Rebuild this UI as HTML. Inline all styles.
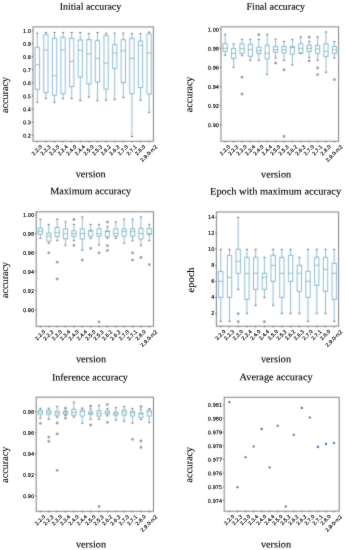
<!DOCTYPE html>
<html><head><meta charset="utf-8"><title>Accuracy by version</title>
<style>
html,body{margin:0;padding:0;background:#fff;}
body{width:345px;height:550px;overflow:hidden;}
svg{display:block;}
svg text{font-family:"DejaVu Sans", "Liberation Sans", sans-serif;fill:#000;text-rendering:geometricPrecision;stroke:#000;stroke-width:0.15px;}
svg text.s{font-family:"Liberation Serif", "DejaVu Serif", serif;stroke-width:0.12px;}
</style></head>
<body>
<svg width="345" height="550" viewBox="0 0 345 550">
<defs><filter id="sg" x="0" y="0" width="345" height="550" filterUnits="userSpaceOnUse" color-interpolation-filters="sRGB"><feConvolveMatrix order="3" kernelMatrix="0.03 0.09 0.03 0.09 0.52 0.09 0.03 0.09 0.03" edgeMode="duplicate" preserveAlpha="true"/></filter><filter id="st" x="0" y="0" width="345" height="550" filterUnits="userSpaceOnUse" color-interpolation-filters="sRGB"><feConvolveMatrix order="3" kernelMatrix="0.01 0.06 0.01 0.06 0.72 0.06 0.01 0.06 0.01" edgeMode="none" preserveAlpha="false"/></filter></defs>
<rect width="345" height="550" fill="#fff"/>
<g filter="url(#sg)">
<rect width="345" height="550" fill="#fff"/>
<line x1="37.3" y1="33.2" x2="37.3" y2="47.3" stroke="#1f77b4" stroke-width="1" stroke-opacity="0.5"/>
<line x1="37.3" y1="89.3" x2="37.3" y2="102.3" stroke="#1f77b4" stroke-width="1" stroke-opacity="0.5"/>
<rect x="35.15" y="47.3" width="4.3" height="42" fill="none" stroke="#1f77b4" stroke-width="1" stroke-opacity="0.5"/>
<line x1="35.15" y1="64.7" x2="39.45" y2="64.7" stroke="#2ca02c" stroke-width="1" stroke-opacity="0.5"/>
<line x1="36.22" y1="33.2" x2="38.38" y2="33.2" stroke="#222" stroke-width="1" stroke-opacity="0.6"/>
<line x1="36.22" y1="102.3" x2="38.38" y2="102.3" stroke="#222" stroke-width="1" stroke-opacity="0.6"/>
<line x1="45.9" y1="32.5" x2="45.9" y2="34.7" stroke="#1f77b4" stroke-width="1" stroke-opacity="0.5"/>
<line x1="45.9" y1="92.6" x2="45.9" y2="98.4" stroke="#1f77b4" stroke-width="1" stroke-opacity="0.5"/>
<rect x="43.75" y="34.7" width="4.3" height="57.9" fill="none" stroke="#1f77b4" stroke-width="1" stroke-opacity="0.5"/>
<line x1="43.75" y1="50.1" x2="48.05" y2="50.1" stroke="#2ca02c" stroke-width="1" stroke-opacity="0.5"/>
<line x1="44.82" y1="32.5" x2="46.98" y2="32.5" stroke="#222" stroke-width="1" stroke-opacity="0.6"/>
<line x1="44.82" y1="98.4" x2="46.98" y2="98.4" stroke="#222" stroke-width="1" stroke-opacity="0.6"/>
<line x1="54.5" y1="32.5" x2="54.5" y2="38.3" stroke="#1f77b4" stroke-width="1" stroke-opacity="0.5"/>
<line x1="54.5" y1="95.2" x2="54.5" y2="102.2" stroke="#1f77b4" stroke-width="1" stroke-opacity="0.5"/>
<rect x="52.35" y="38.3" width="4.3" height="56.9" fill="none" stroke="#1f77b4" stroke-width="1" stroke-opacity="0.5"/>
<line x1="52.35" y1="75.8" x2="56.65" y2="75.8" stroke="#2ca02c" stroke-width="1" stroke-opacity="0.5"/>
<line x1="53.42" y1="32.5" x2="55.58" y2="32.5" stroke="#222" stroke-width="1" stroke-opacity="0.6"/>
<line x1="53.42" y1="102.2" x2="55.58" y2="102.2" stroke="#222" stroke-width="1" stroke-opacity="0.6"/>
<line x1="63.1" y1="32.5" x2="63.1" y2="37.4" stroke="#1f77b4" stroke-width="1" stroke-opacity="0.5"/>
<line x1="63.1" y1="93.7" x2="63.1" y2="98.8" stroke="#1f77b4" stroke-width="1" stroke-opacity="0.5"/>
<rect x="60.95" y="37.4" width="4.3" height="56.3" fill="none" stroke="#1f77b4" stroke-width="1" stroke-opacity="0.5"/>
<line x1="60.95" y1="49.8" x2="65.25" y2="49.8" stroke="#2ca02c" stroke-width="1" stroke-opacity="0.5"/>
<line x1="62.02" y1="32.5" x2="64.17" y2="32.5" stroke="#222" stroke-width="1" stroke-opacity="0.6"/>
<line x1="62.02" y1="98.8" x2="64.17" y2="98.8" stroke="#222" stroke-width="1" stroke-opacity="0.6"/>
<line x1="71.7" y1="32.5" x2="71.7" y2="38.3" stroke="#1f77b4" stroke-width="1" stroke-opacity="0.5"/>
<line x1="71.7" y1="86.6" x2="71.7" y2="98.6" stroke="#1f77b4" stroke-width="1" stroke-opacity="0.5"/>
<rect x="69.55" y="38.3" width="4.3" height="48.3" fill="none" stroke="#1f77b4" stroke-width="1" stroke-opacity="0.5"/>
<line x1="69.55" y1="61.3" x2="73.85" y2="61.3" stroke="#2ca02c" stroke-width="1" stroke-opacity="0.5"/>
<line x1="70.62" y1="32.5" x2="72.77" y2="32.5" stroke="#222" stroke-width="1" stroke-opacity="0.6"/>
<line x1="70.62" y1="98.6" x2="72.77" y2="98.6" stroke="#222" stroke-width="1" stroke-opacity="0.6"/>
<line x1="80.3" y1="32.5" x2="80.3" y2="40" stroke="#1f77b4" stroke-width="1" stroke-opacity="0.5"/>
<line x1="80.3" y1="77.1" x2="80.3" y2="100.5" stroke="#1f77b4" stroke-width="1" stroke-opacity="0.5"/>
<rect x="78.15" y="40" width="4.3" height="37.1" fill="none" stroke="#1f77b4" stroke-width="1" stroke-opacity="0.5"/>
<line x1="78.15" y1="50.3" x2="82.45" y2="50.3" stroke="#2ca02c" stroke-width="1" stroke-opacity="0.5"/>
<line x1="79.22" y1="32.5" x2="81.38" y2="32.5" stroke="#222" stroke-width="1" stroke-opacity="0.6"/>
<line x1="79.22" y1="100.5" x2="81.38" y2="100.5" stroke="#222" stroke-width="1" stroke-opacity="0.6"/>
<line x1="88.9" y1="33.5" x2="88.9" y2="39.6" stroke="#1f77b4" stroke-width="1" stroke-opacity="0.5"/>
<line x1="88.9" y1="84" x2="88.9" y2="97.1" stroke="#1f77b4" stroke-width="1" stroke-opacity="0.5"/>
<rect x="86.75" y="39.6" width="4.3" height="44.4" fill="none" stroke="#1f77b4" stroke-width="1" stroke-opacity="0.5"/>
<line x1="86.75" y1="53.9" x2="91.05" y2="53.9" stroke="#2ca02c" stroke-width="1" stroke-opacity="0.5"/>
<line x1="87.83" y1="33.5" x2="89.98" y2="33.5" stroke="#222" stroke-width="1" stroke-opacity="0.6"/>
<line x1="87.83" y1="97.1" x2="89.98" y2="97.1" stroke="#222" stroke-width="1" stroke-opacity="0.6"/>
<line x1="97.5" y1="32.5" x2="97.5" y2="40.7" stroke="#1f77b4" stroke-width="1" stroke-opacity="0.5"/>
<line x1="97.5" y1="81.9" x2="97.5" y2="100.7" stroke="#1f77b4" stroke-width="1" stroke-opacity="0.5"/>
<rect x="95.35" y="40.7" width="4.3" height="41.2" fill="none" stroke="#1f77b4" stroke-width="1" stroke-opacity="0.5"/>
<line x1="95.35" y1="58.3" x2="99.65" y2="58.3" stroke="#2ca02c" stroke-width="1" stroke-opacity="0.5"/>
<line x1="96.42" y1="32.5" x2="98.58" y2="32.5" stroke="#222" stroke-width="1" stroke-opacity="0.6"/>
<line x1="96.42" y1="100.7" x2="98.58" y2="100.7" stroke="#222" stroke-width="1" stroke-opacity="0.6"/>
<line x1="106.1" y1="33.2" x2="106.1" y2="35.5" stroke="#1f77b4" stroke-width="1" stroke-opacity="0.5"/>
<line x1="106.1" y1="89.1" x2="106.1" y2="100.3" stroke="#1f77b4" stroke-width="1" stroke-opacity="0.5"/>
<rect x="103.95" y="35.5" width="4.3" height="53.6" fill="none" stroke="#1f77b4" stroke-width="1" stroke-opacity="0.5"/>
<line x1="103.95" y1="63.2" x2="108.25" y2="63.2" stroke="#2ca02c" stroke-width="1" stroke-opacity="0.5"/>
<line x1="105.02" y1="33.2" x2="107.17" y2="33.2" stroke="#222" stroke-width="1" stroke-opacity="0.6"/>
<line x1="105.02" y1="100.3" x2="107.17" y2="100.3" stroke="#222" stroke-width="1" stroke-opacity="0.6"/>
<line x1="114.7" y1="33.1" x2="114.7" y2="44.6" stroke="#1f77b4" stroke-width="1" stroke-opacity="0.5"/>
<line x1="114.7" y1="68.3" x2="114.7" y2="99.7" stroke="#1f77b4" stroke-width="1" stroke-opacity="0.5"/>
<rect x="112.55" y="44.6" width="4.3" height="23.7" fill="none" stroke="#1f77b4" stroke-width="1" stroke-opacity="0.5"/>
<line x1="112.55" y1="53.1" x2="116.85" y2="53.1" stroke="#2ca02c" stroke-width="1" stroke-opacity="0.5"/>
<line x1="113.62" y1="33.1" x2="115.78" y2="33.1" stroke="#222" stroke-width="1" stroke-opacity="0.6"/>
<line x1="113.62" y1="99.7" x2="115.78" y2="99.7" stroke="#222" stroke-width="1" stroke-opacity="0.6"/>
<line x1="123.3" y1="33.1" x2="123.3" y2="39.6" stroke="#1f77b4" stroke-width="1" stroke-opacity="0.5"/>
<line x1="123.3" y1="82.5" x2="123.3" y2="97.5" stroke="#1f77b4" stroke-width="1" stroke-opacity="0.5"/>
<rect x="121.15" y="39.6" width="4.3" height="42.9" fill="none" stroke="#1f77b4" stroke-width="1" stroke-opacity="0.5"/>
<line x1="121.15" y1="50.6" x2="125.45" y2="50.6" stroke="#2ca02c" stroke-width="1" stroke-opacity="0.5"/>
<line x1="122.22" y1="33.1" x2="124.38" y2="33.1" stroke="#222" stroke-width="1" stroke-opacity="0.6"/>
<line x1="122.22" y1="97.5" x2="124.38" y2="97.5" stroke="#222" stroke-width="1" stroke-opacity="0.6"/>
<line x1="131.9" y1="33.6" x2="131.9" y2="38.3" stroke="#1f77b4" stroke-width="1" stroke-opacity="0.5"/>
<line x1="131.9" y1="93.6" x2="131.9" y2="136.5" stroke="#1f77b4" stroke-width="1" stroke-opacity="0.5"/>
<rect x="129.75" y="38.3" width="4.3" height="55.3" fill="none" stroke="#1f77b4" stroke-width="1" stroke-opacity="0.5"/>
<line x1="129.75" y1="58.3" x2="134.05" y2="58.3" stroke="#2ca02c" stroke-width="1" stroke-opacity="0.5"/>
<line x1="130.82" y1="33.6" x2="132.97" y2="33.6" stroke="#222" stroke-width="1" stroke-opacity="0.6"/>
<line x1="130.82" y1="136.5" x2="132.97" y2="136.5" stroke="#222" stroke-width="1" stroke-opacity="0.6"/>
<line x1="140.5" y1="33.6" x2="140.5" y2="41.1" stroke="#1f77b4" stroke-width="1" stroke-opacity="0.5"/>
<line x1="140.5" y1="87.6" x2="140.5" y2="100.3" stroke="#1f77b4" stroke-width="1" stroke-opacity="0.5"/>
<rect x="138.35" y="41.1" width="4.3" height="46.5" fill="none" stroke="#1f77b4" stroke-width="1" stroke-opacity="0.5"/>
<line x1="138.35" y1="45.4" x2="142.65" y2="45.4" stroke="#2ca02c" stroke-width="1" stroke-opacity="0.5"/>
<line x1="139.43" y1="33.6" x2="141.57" y2="33.6" stroke="#222" stroke-width="1" stroke-opacity="0.6"/>
<line x1="139.43" y1="100.3" x2="141.57" y2="100.3" stroke="#222" stroke-width="1" stroke-opacity="0.6"/>
<line x1="149.1" y1="32.1" x2="149.1" y2="34" stroke="#1f77b4" stroke-width="1" stroke-opacity="0.5"/>
<line x1="149.1" y1="94" x2="149.1" y2="112.4" stroke="#1f77b4" stroke-width="1" stroke-opacity="0.5"/>
<rect x="146.95" y="34" width="4.3" height="60" fill="none" stroke="#1f77b4" stroke-width="1" stroke-opacity="0.5"/>
<line x1="146.95" y1="52.9" x2="151.25" y2="52.9" stroke="#2ca02c" stroke-width="1" stroke-opacity="0.5"/>
<line x1="148.03" y1="32.1" x2="150.17" y2="32.1" stroke="#222" stroke-width="1" stroke-opacity="0.6"/>
<line x1="148.03" y1="112.4" x2="150.17" y2="112.4" stroke="#222" stroke-width="1" stroke-opacity="0.6"/>
<rect x="33" y="26.9" width="120.4" height="114.4" fill="none" stroke="#000" stroke-width="1" stroke-opacity="0.5"/>
<line x1="31.8" y1="30.6" x2="33" y2="30.6" stroke="#000" stroke-width="1" stroke-opacity="0.5"/>
<line x1="31.8" y1="43.69" x2="33" y2="43.69" stroke="#000" stroke-width="1" stroke-opacity="0.5"/>
<line x1="31.8" y1="56.77" x2="33" y2="56.77" stroke="#000" stroke-width="1" stroke-opacity="0.5"/>
<line x1="31.8" y1="69.86" x2="33" y2="69.86" stroke="#000" stroke-width="1" stroke-opacity="0.5"/>
<line x1="31.8" y1="82.95" x2="33" y2="82.95" stroke="#000" stroke-width="1" stroke-opacity="0.5"/>
<line x1="31.8" y1="96.04" x2="33" y2="96.04" stroke="#000" stroke-width="1" stroke-opacity="0.5"/>
<line x1="31.8" y1="109.12" x2="33" y2="109.12" stroke="#000" stroke-width="1" stroke-opacity="0.5"/>
<line x1="31.8" y1="122.21" x2="33" y2="122.21" stroke="#000" stroke-width="1" stroke-opacity="0.5"/>
<line x1="31.8" y1="135.3" x2="33" y2="135.3" stroke="#000" stroke-width="1" stroke-opacity="0.5"/>
<line x1="37.3" y1="141.3" x2="37.3" y2="142.5" stroke="#000" stroke-width="1" stroke-opacity="0.5"/>
<line x1="45.9" y1="141.3" x2="45.9" y2="142.5" stroke="#000" stroke-width="1" stroke-opacity="0.5"/>
<line x1="54.5" y1="141.3" x2="54.5" y2="142.5" stroke="#000" stroke-width="1" stroke-opacity="0.5"/>
<line x1="63.1" y1="141.3" x2="63.1" y2="142.5" stroke="#000" stroke-width="1" stroke-opacity="0.5"/>
<line x1="71.7" y1="141.3" x2="71.7" y2="142.5" stroke="#000" stroke-width="1" stroke-opacity="0.5"/>
<line x1="80.3" y1="141.3" x2="80.3" y2="142.5" stroke="#000" stroke-width="1" stroke-opacity="0.5"/>
<line x1="88.9" y1="141.3" x2="88.9" y2="142.5" stroke="#000" stroke-width="1" stroke-opacity="0.5"/>
<line x1="97.5" y1="141.3" x2="97.5" y2="142.5" stroke="#000" stroke-width="1" stroke-opacity="0.5"/>
<line x1="106.1" y1="141.3" x2="106.1" y2="142.5" stroke="#000" stroke-width="1" stroke-opacity="0.5"/>
<line x1="114.7" y1="141.3" x2="114.7" y2="142.5" stroke="#000" stroke-width="1" stroke-opacity="0.5"/>
<line x1="123.3" y1="141.3" x2="123.3" y2="142.5" stroke="#000" stroke-width="1" stroke-opacity="0.5"/>
<line x1="131.9" y1="141.3" x2="131.9" y2="142.5" stroke="#000" stroke-width="1" stroke-opacity="0.5"/>
<line x1="140.5" y1="141.3" x2="140.5" y2="142.5" stroke="#000" stroke-width="1" stroke-opacity="0.5"/>
<line x1="149.1" y1="141.3" x2="149.1" y2="142.5" stroke="#000" stroke-width="1" stroke-opacity="0.5"/>
<line x1="225.2" y1="34.5" x2="225.2" y2="43.7" stroke="#1f77b4" stroke-width="1" stroke-opacity="0.5"/>
<line x1="225.2" y1="51.3" x2="225.2" y2="55.3" stroke="#1f77b4" stroke-width="1" stroke-opacity="0.5"/>
<rect x="223.1" y="43.7" width="4.2" height="7.6" fill="none" stroke="#1f77b4" stroke-width="1" stroke-opacity="0.5"/>
<line x1="223.1" y1="48.3" x2="227.3" y2="48.3" stroke="#2ca02c" stroke-width="1" stroke-opacity="0.5"/>
<line x1="224.15" y1="34.5" x2="226.25" y2="34.5" stroke="#222" stroke-width="1" stroke-opacity="0.6"/>
<line x1="224.15" y1="55.3" x2="226.25" y2="55.3" stroke="#222" stroke-width="1" stroke-opacity="0.6"/>
<line x1="233.6" y1="43.9" x2="233.6" y2="48.5" stroke="#1f77b4" stroke-width="1" stroke-opacity="0.5"/>
<line x1="233.6" y1="58.3" x2="233.6" y2="67.3" stroke="#1f77b4" stroke-width="1" stroke-opacity="0.5"/>
<rect x="231.5" y="48.5" width="4.2" height="9.8" fill="none" stroke="#1f77b4" stroke-width="1" stroke-opacity="0.5"/>
<line x1="231.5" y1="53.3" x2="235.7" y2="53.3" stroke="#2ca02c" stroke-width="1" stroke-opacity="0.5"/>
<line x1="232.55" y1="43.9" x2="234.65" y2="43.9" stroke="#222" stroke-width="1" stroke-opacity="0.6"/>
<line x1="232.55" y1="67.3" x2="234.65" y2="67.3" stroke="#222" stroke-width="1" stroke-opacity="0.6"/>
<line x1="242" y1="39.4" x2="242" y2="43.9" stroke="#1f77b4" stroke-width="1" stroke-opacity="0.5"/>
<line x1="242" y1="53.3" x2="242" y2="55.7" stroke="#1f77b4" stroke-width="1" stroke-opacity="0.5"/>
<rect x="239.9" y="43.9" width="4.2" height="9.4" fill="none" stroke="#1f77b4" stroke-width="1" stroke-opacity="0.5"/>
<line x1="239.9" y1="48.7" x2="244.1" y2="48.7" stroke="#2ca02c" stroke-width="1" stroke-opacity="0.5"/>
<line x1="240.95" y1="39.4" x2="243.05" y2="39.4" stroke="#222" stroke-width="1" stroke-opacity="0.6"/>
<line x1="240.95" y1="55.7" x2="243.05" y2="55.7" stroke="#222" stroke-width="1" stroke-opacity="0.6"/>
<circle cx="242" cy="77.2" r="1.15" fill="#999" stroke="#666" stroke-width="0.3"/>
<circle cx="242" cy="94" r="1.15" fill="#999" stroke="#666" stroke-width="0.3"/>
<line x1="250.4" y1="39.4" x2="250.4" y2="44.3" stroke="#1f77b4" stroke-width="1" stroke-opacity="0.5"/>
<line x1="250.4" y1="56.3" x2="250.4" y2="60.4" stroke="#1f77b4" stroke-width="1" stroke-opacity="0.5"/>
<rect x="248.3" y="44.3" width="4.2" height="12" fill="none" stroke="#1f77b4" stroke-width="1" stroke-opacity="0.5"/>
<line x1="248.3" y1="49.6" x2="252.5" y2="49.6" stroke="#2ca02c" stroke-width="1" stroke-opacity="0.5"/>
<line x1="249.35" y1="39.4" x2="251.45" y2="39.4" stroke="#222" stroke-width="1" stroke-opacity="0.6"/>
<line x1="249.35" y1="60.4" x2="251.45" y2="60.4" stroke="#222" stroke-width="1" stroke-opacity="0.6"/>
<line x1="258.8" y1="39.3" x2="258.8" y2="47.2" stroke="#1f77b4" stroke-width="1" stroke-opacity="0.5"/>
<line x1="258.8" y1="53.5" x2="258.8" y2="60.4" stroke="#1f77b4" stroke-width="1" stroke-opacity="0.5"/>
<rect x="256.7" y="47.2" width="4.2" height="6.3" fill="none" stroke="#1f77b4" stroke-width="1" stroke-opacity="0.5"/>
<line x1="256.7" y1="50.8" x2="260.9" y2="50.8" stroke="#2ca02c" stroke-width="1" stroke-opacity="0.5"/>
<line x1="257.75" y1="39.3" x2="259.85" y2="39.3" stroke="#222" stroke-width="1" stroke-opacity="0.6"/>
<line x1="257.75" y1="60.4" x2="259.85" y2="60.4" stroke="#222" stroke-width="1" stroke-opacity="0.6"/>
<circle cx="258.8" cy="34.7" r="1.15" fill="#999" stroke="#666" stroke-width="0.3"/>
<line x1="267.2" y1="34.4" x2="267.2" y2="45.3" stroke="#1f77b4" stroke-width="1" stroke-opacity="0.5"/>
<line x1="267.2" y1="58.8" x2="267.2" y2="74.3" stroke="#1f77b4" stroke-width="1" stroke-opacity="0.5"/>
<rect x="265.1" y="45.3" width="4.2" height="13.5" fill="none" stroke="#1f77b4" stroke-width="1" stroke-opacity="0.5"/>
<line x1="265.1" y1="53.3" x2="269.3" y2="53.3" stroke="#2ca02c" stroke-width="1" stroke-opacity="0.5"/>
<line x1="266.15" y1="34.4" x2="268.25" y2="34.4" stroke="#222" stroke-width="1" stroke-opacity="0.6"/>
<line x1="266.15" y1="74.3" x2="268.25" y2="74.3" stroke="#222" stroke-width="1" stroke-opacity="0.6"/>
<line x1="275.6" y1="39.3" x2="275.6" y2="46.6" stroke="#1f77b4" stroke-width="1" stroke-opacity="0.5"/>
<line x1="275.6" y1="52.2" x2="275.6" y2="58.2" stroke="#1f77b4" stroke-width="1" stroke-opacity="0.5"/>
<rect x="273.5" y="46.6" width="4.2" height="5.6" fill="none" stroke="#1f77b4" stroke-width="1" stroke-opacity="0.5"/>
<line x1="273.5" y1="49.7" x2="277.7" y2="49.7" stroke="#2ca02c" stroke-width="1" stroke-opacity="0.5"/>
<line x1="274.55" y1="39.3" x2="276.65" y2="39.3" stroke="#222" stroke-width="1" stroke-opacity="0.6"/>
<line x1="274.55" y1="58.2" x2="276.65" y2="58.2" stroke="#222" stroke-width="1" stroke-opacity="0.6"/>
<circle cx="275.6" cy="63" r="1.15" fill="#999" stroke="#666" stroke-width="0.3"/>
<line x1="284" y1="41.5" x2="284" y2="46.5" stroke="#1f77b4" stroke-width="1" stroke-opacity="0.5"/>
<line x1="284" y1="52.9" x2="284" y2="60.4" stroke="#1f77b4" stroke-width="1" stroke-opacity="0.5"/>
<rect x="281.9" y="46.5" width="4.2" height="6.4" fill="none" stroke="#1f77b4" stroke-width="1" stroke-opacity="0.5"/>
<line x1="281.9" y1="49.7" x2="286.1" y2="49.7" stroke="#2ca02c" stroke-width="1" stroke-opacity="0.5"/>
<line x1="282.95" y1="41.5" x2="285.05" y2="41.5" stroke="#222" stroke-width="1" stroke-opacity="0.6"/>
<line x1="282.95" y1="60.4" x2="285.05" y2="60.4" stroke="#222" stroke-width="1" stroke-opacity="0.6"/>
<circle cx="284" cy="69.9" r="1.15" fill="#999" stroke="#666" stroke-width="0.3"/>
<circle cx="284" cy="136.4" r="1.15" fill="#999" stroke="#666" stroke-width="0.3"/>
<line x1="292.4" y1="39.4" x2="292.4" y2="46.5" stroke="#1f77b4" stroke-width="1" stroke-opacity="0.5"/>
<line x1="292.4" y1="54.1" x2="292.4" y2="65.1" stroke="#1f77b4" stroke-width="1" stroke-opacity="0.5"/>
<rect x="290.3" y="46.5" width="4.2" height="7.6" fill="none" stroke="#1f77b4" stroke-width="1" stroke-opacity="0.5"/>
<line x1="290.3" y1="47.6" x2="294.5" y2="47.6" stroke="#2ca02c" stroke-width="1" stroke-opacity="0.5"/>
<line x1="291.35" y1="39.4" x2="293.45" y2="39.4" stroke="#222" stroke-width="1" stroke-opacity="0.6"/>
<line x1="291.35" y1="65.1" x2="293.45" y2="65.1" stroke="#222" stroke-width="1" stroke-opacity="0.6"/>
<line x1="300.8" y1="36.8" x2="300.8" y2="43.7" stroke="#1f77b4" stroke-width="1" stroke-opacity="0.5"/>
<line x1="300.8" y1="53.3" x2="300.8" y2="53.3" stroke="#1f77b4" stroke-width="1" stroke-opacity="0.5"/>
<rect x="298.7" y="43.7" width="4.2" height="9.6" fill="none" stroke="#1f77b4" stroke-width="1" stroke-opacity="0.5"/>
<line x1="298.7" y1="48.4" x2="302.9" y2="48.4" stroke="#2ca02c" stroke-width="1" stroke-opacity="0.5"/>
<line x1="299.75" y1="36.8" x2="301.85" y2="36.8" stroke="#222" stroke-width="1" stroke-opacity="0.6"/>
<line x1="299.75" y1="53.3" x2="301.85" y2="53.3" stroke="#222" stroke-width="1" stroke-opacity="0.6"/>
<line x1="309.2" y1="41.3" x2="309.2" y2="45.3" stroke="#1f77b4" stroke-width="1" stroke-opacity="0.5"/>
<line x1="309.2" y1="51.5" x2="309.2" y2="57.6" stroke="#1f77b4" stroke-width="1" stroke-opacity="0.5"/>
<rect x="307.1" y="45.3" width="4.2" height="6.2" fill="none" stroke="#1f77b4" stroke-width="1" stroke-opacity="0.5"/>
<line x1="307.1" y1="48.6" x2="311.3" y2="48.6" stroke="#2ca02c" stroke-width="1" stroke-opacity="0.5"/>
<line x1="308.15" y1="41.3" x2="310.25" y2="41.3" stroke="#222" stroke-width="1" stroke-opacity="0.6"/>
<line x1="308.15" y1="57.6" x2="310.25" y2="57.6" stroke="#222" stroke-width="1" stroke-opacity="0.6"/>
<circle cx="309.2" cy="37.2" r="1.15" fill="#999" stroke="#666" stroke-width="0.3"/>
<circle cx="309.2" cy="60.8" r="1.15" fill="#999" stroke="#666" stroke-width="0.3"/>
<line x1="317.6" y1="36.8" x2="317.6" y2="45.4" stroke="#1f77b4" stroke-width="1" stroke-opacity="0.5"/>
<line x1="317.6" y1="53.3" x2="317.6" y2="60.4" stroke="#1f77b4" stroke-width="1" stroke-opacity="0.5"/>
<rect x="315.5" y="45.4" width="4.2" height="7.9" fill="none" stroke="#1f77b4" stroke-width="1" stroke-opacity="0.5"/>
<line x1="315.5" y1="48.9" x2="319.7" y2="48.9" stroke="#2ca02c" stroke-width="1" stroke-opacity="0.5"/>
<line x1="316.55" y1="36.8" x2="318.65" y2="36.8" stroke="#222" stroke-width="1" stroke-opacity="0.6"/>
<line x1="316.55" y1="60.4" x2="318.65" y2="60.4" stroke="#222" stroke-width="1" stroke-opacity="0.6"/>
<circle cx="317.6" cy="67.8" r="1.15" fill="#999" stroke="#666" stroke-width="0.3"/>
<circle cx="317.6" cy="74.6" r="1.15" fill="#999" stroke="#666" stroke-width="0.3"/>
<line x1="326" y1="31.9" x2="326" y2="43.9" stroke="#1f77b4" stroke-width="1" stroke-opacity="0.5"/>
<line x1="326" y1="56.5" x2="326" y2="72.3" stroke="#1f77b4" stroke-width="1" stroke-opacity="0.5"/>
<rect x="323.9" y="43.9" width="4.2" height="12.6" fill="none" stroke="#1f77b4" stroke-width="1" stroke-opacity="0.5"/>
<line x1="323.9" y1="51.2" x2="328.1" y2="51.2" stroke="#2ca02c" stroke-width="1" stroke-opacity="0.5"/>
<line x1="324.95" y1="31.9" x2="327.05" y2="31.9" stroke="#222" stroke-width="1" stroke-opacity="0.6"/>
<line x1="324.95" y1="72.3" x2="327.05" y2="72.3" stroke="#222" stroke-width="1" stroke-opacity="0.6"/>
<line x1="334.4" y1="41.5" x2="334.4" y2="46.5" stroke="#1f77b4" stroke-width="1" stroke-opacity="0.5"/>
<line x1="334.4" y1="53.3" x2="334.4" y2="58" stroke="#1f77b4" stroke-width="1" stroke-opacity="0.5"/>
<rect x="332.3" y="46.5" width="4.2" height="6.8" fill="none" stroke="#1f77b4" stroke-width="1" stroke-opacity="0.5"/>
<line x1="332.3" y1="49.7" x2="336.5" y2="49.7" stroke="#2ca02c" stroke-width="1" stroke-opacity="0.5"/>
<line x1="333.35" y1="41.5" x2="335.45" y2="41.5" stroke="#222" stroke-width="1" stroke-opacity="0.6"/>
<line x1="333.35" y1="58" x2="335.45" y2="58" stroke="#222" stroke-width="1" stroke-opacity="0.6"/>
<circle cx="334.4" cy="79.6" r="1.15" fill="#999" stroke="#666" stroke-width="0.3"/>
<rect x="221" y="26.8" width="117.6" height="114.5" fill="none" stroke="#000" stroke-width="1" stroke-opacity="0.5"/>
<line x1="219.8" y1="29.3" x2="221" y2="29.3" stroke="#000" stroke-width="1" stroke-opacity="0.5"/>
<line x1="219.8" y1="48.4" x2="221" y2="48.4" stroke="#000" stroke-width="1" stroke-opacity="0.5"/>
<line x1="219.8" y1="67.5" x2="221" y2="67.5" stroke="#000" stroke-width="1" stroke-opacity="0.5"/>
<line x1="219.8" y1="86.6" x2="221" y2="86.6" stroke="#000" stroke-width="1" stroke-opacity="0.5"/>
<line x1="219.8" y1="105.7" x2="221" y2="105.7" stroke="#000" stroke-width="1" stroke-opacity="0.5"/>
<line x1="219.8" y1="124.8" x2="221" y2="124.8" stroke="#000" stroke-width="1" stroke-opacity="0.5"/>
<line x1="225.2" y1="141.3" x2="225.2" y2="142.5" stroke="#000" stroke-width="1" stroke-opacity="0.5"/>
<line x1="233.6" y1="141.3" x2="233.6" y2="142.5" stroke="#000" stroke-width="1" stroke-opacity="0.5"/>
<line x1="242" y1="141.3" x2="242" y2="142.5" stroke="#000" stroke-width="1" stroke-opacity="0.5"/>
<line x1="250.4" y1="141.3" x2="250.4" y2="142.5" stroke="#000" stroke-width="1" stroke-opacity="0.5"/>
<line x1="258.8" y1="141.3" x2="258.8" y2="142.5" stroke="#000" stroke-width="1" stroke-opacity="0.5"/>
<line x1="267.2" y1="141.3" x2="267.2" y2="142.5" stroke="#000" stroke-width="1" stroke-opacity="0.5"/>
<line x1="275.6" y1="141.3" x2="275.6" y2="142.5" stroke="#000" stroke-width="1" stroke-opacity="0.5"/>
<line x1="284" y1="141.3" x2="284" y2="142.5" stroke="#000" stroke-width="1" stroke-opacity="0.5"/>
<line x1="292.4" y1="141.3" x2="292.4" y2="142.5" stroke="#000" stroke-width="1" stroke-opacity="0.5"/>
<line x1="300.8" y1="141.3" x2="300.8" y2="142.5" stroke="#000" stroke-width="1" stroke-opacity="0.5"/>
<line x1="309.2" y1="141.3" x2="309.2" y2="142.5" stroke="#000" stroke-width="1" stroke-opacity="0.5"/>
<line x1="317.6" y1="141.3" x2="317.6" y2="142.5" stroke="#000" stroke-width="1" stroke-opacity="0.5"/>
<line x1="326" y1="141.3" x2="326" y2="142.5" stroke="#000" stroke-width="1" stroke-opacity="0.5"/>
<line x1="334.4" y1="141.3" x2="334.4" y2="142.5" stroke="#000" stroke-width="1" stroke-opacity="0.5"/>
<line x1="40.39" y1="219.2" x2="40.39" y2="228.2" stroke="#1f77b4" stroke-width="1" stroke-opacity="0.5"/>
<line x1="40.39" y1="234.2" x2="40.39" y2="238.3" stroke="#1f77b4" stroke-width="1" stroke-opacity="0.5"/>
<rect x="38.29" y="228.2" width="4.19" height="6" fill="none" stroke="#1f77b4" stroke-width="1" stroke-opacity="0.5"/>
<line x1="38.29" y1="231.2" x2="42.48" y2="231.2" stroke="#2ca02c" stroke-width="1" stroke-opacity="0.5"/>
<line x1="39.34" y1="219.2" x2="41.44" y2="219.2" stroke="#222" stroke-width="1" stroke-opacity="0.6"/>
<line x1="39.34" y1="238.3" x2="41.44" y2="238.3" stroke="#222" stroke-width="1" stroke-opacity="0.6"/>
<line x1="48.77" y1="224.4" x2="48.77" y2="233.2" stroke="#1f77b4" stroke-width="1" stroke-opacity="0.5"/>
<line x1="48.77" y1="241.3" x2="48.77" y2="243.3" stroke="#1f77b4" stroke-width="1" stroke-opacity="0.5"/>
<rect x="46.67" y="233.2" width="4.19" height="8.1" fill="none" stroke="#1f77b4" stroke-width="1" stroke-opacity="0.5"/>
<line x1="46.67" y1="236.1" x2="50.86" y2="236.1" stroke="#2ca02c" stroke-width="1" stroke-opacity="0.5"/>
<line x1="47.72" y1="224.4" x2="49.82" y2="224.4" stroke="#222" stroke-width="1" stroke-opacity="0.6"/>
<line x1="47.72" y1="243.3" x2="49.82" y2="243.3" stroke="#222" stroke-width="1" stroke-opacity="0.6"/>
<circle cx="48.77" cy="252.8" r="1.15" fill="#999" stroke="#666" stroke-width="0.3"/>
<line x1="57.15" y1="219.2" x2="57.15" y2="227.6" stroke="#1f77b4" stroke-width="1" stroke-opacity="0.5"/>
<line x1="57.15" y1="236.4" x2="57.15" y2="240.7" stroke="#1f77b4" stroke-width="1" stroke-opacity="0.5"/>
<rect x="55.05" y="227.6" width="4.19" height="8.8" fill="none" stroke="#1f77b4" stroke-width="1" stroke-opacity="0.5"/>
<line x1="55.05" y1="232.6" x2="59.24" y2="232.6" stroke="#2ca02c" stroke-width="1" stroke-opacity="0.5"/>
<line x1="56.1" y1="219.2" x2="58.19" y2="219.2" stroke="#222" stroke-width="1" stroke-opacity="0.6"/>
<line x1="56.1" y1="240.7" x2="58.19" y2="240.7" stroke="#222" stroke-width="1" stroke-opacity="0.6"/>
<circle cx="57.15" cy="262.2" r="1.15" fill="#999" stroke="#666" stroke-width="0.3"/>
<circle cx="57.15" cy="279" r="1.15" fill="#999" stroke="#666" stroke-width="0.3"/>
<line x1="65.53" y1="221.8" x2="65.53" y2="228.9" stroke="#1f77b4" stroke-width="1" stroke-opacity="0.5"/>
<line x1="65.53" y1="238.7" x2="65.53" y2="245.3" stroke="#1f77b4" stroke-width="1" stroke-opacity="0.5"/>
<rect x="63.43" y="228.9" width="4.19" height="9.8" fill="none" stroke="#1f77b4" stroke-width="1" stroke-opacity="0.5"/>
<line x1="63.43" y1="233.6" x2="67.62" y2="233.6" stroke="#2ca02c" stroke-width="1" stroke-opacity="0.5"/>
<line x1="64.48" y1="221.8" x2="66.57" y2="221.8" stroke="#222" stroke-width="1" stroke-opacity="0.6"/>
<line x1="64.48" y1="245.3" x2="66.57" y2="245.3" stroke="#222" stroke-width="1" stroke-opacity="0.6"/>
<line x1="73.9" y1="224.4" x2="73.9" y2="230.8" stroke="#1f77b4" stroke-width="1" stroke-opacity="0.5"/>
<line x1="73.9" y1="236.2" x2="73.9" y2="240.7" stroke="#1f77b4" stroke-width="1" stroke-opacity="0.5"/>
<rect x="71.81" y="230.8" width="4.19" height="5.4" fill="none" stroke="#1f77b4" stroke-width="1" stroke-opacity="0.5"/>
<line x1="71.81" y1="233.6" x2="76" y2="233.6" stroke="#2ca02c" stroke-width="1" stroke-opacity="0.5"/>
<line x1="72.86" y1="224.4" x2="74.95" y2="224.4" stroke="#222" stroke-width="1" stroke-opacity="0.6"/>
<line x1="72.86" y1="240.7" x2="74.95" y2="240.7" stroke="#222" stroke-width="1" stroke-opacity="0.6"/>
<circle cx="73.9" cy="219.5" r="1.15" fill="#999" stroke="#666" stroke-width="0.3"/>
<circle cx="73.9" cy="245.3" r="1.15" fill="#999" stroke="#666" stroke-width="0.3"/>
<line x1="82.28" y1="216.9" x2="82.28" y2="228.9" stroke="#1f77b4" stroke-width="1" stroke-opacity="0.5"/>
<line x1="82.28" y1="239" x2="82.28" y2="250.1" stroke="#1f77b4" stroke-width="1" stroke-opacity="0.5"/>
<rect x="80.19" y="228.9" width="4.19" height="10.1" fill="none" stroke="#1f77b4" stroke-width="1" stroke-opacity="0.5"/>
<line x1="80.19" y1="233.6" x2="84.38" y2="233.6" stroke="#2ca02c" stroke-width="1" stroke-opacity="0.5"/>
<line x1="81.23" y1="216.9" x2="83.33" y2="216.9" stroke="#222" stroke-width="1" stroke-opacity="0.6"/>
<line x1="81.23" y1="250.1" x2="83.33" y2="250.1" stroke="#222" stroke-width="1" stroke-opacity="0.6"/>
<circle cx="82.28" cy="260.1" r="1.15" fill="#999" stroke="#666" stroke-width="0.3"/>
<line x1="90.66" y1="224.4" x2="90.66" y2="230.8" stroke="#1f77b4" stroke-width="1" stroke-opacity="0.5"/>
<line x1="90.66" y1="236.2" x2="90.66" y2="238.5" stroke="#1f77b4" stroke-width="1" stroke-opacity="0.5"/>
<rect x="88.57" y="230.8" width="4.19" height="5.4" fill="none" stroke="#1f77b4" stroke-width="1" stroke-opacity="0.5"/>
<line x1="88.57" y1="230.8" x2="92.76" y2="230.8" stroke="#2ca02c" stroke-width="1" stroke-opacity="0.5"/>
<line x1="89.61" y1="224.4" x2="91.71" y2="224.4" stroke="#222" stroke-width="1" stroke-opacity="0.6"/>
<line x1="89.61" y1="238.5" x2="91.71" y2="238.5" stroke="#222" stroke-width="1" stroke-opacity="0.6"/>
<circle cx="90.66" cy="248.3" r="1.15" fill="#999" stroke="#666" stroke-width="0.3"/>
<line x1="99.04" y1="224.4" x2="99.04" y2="228.9" stroke="#1f77b4" stroke-width="1" stroke-opacity="0.5"/>
<line x1="99.04" y1="236.2" x2="99.04" y2="245" stroke="#1f77b4" stroke-width="1" stroke-opacity="0.5"/>
<rect x="96.94" y="228.9" width="4.19" height="7.3" fill="none" stroke="#1f77b4" stroke-width="1" stroke-opacity="0.5"/>
<line x1="96.94" y1="233.6" x2="101.13" y2="233.6" stroke="#2ca02c" stroke-width="1" stroke-opacity="0.5"/>
<line x1="97.99" y1="224.4" x2="100.09" y2="224.4" stroke="#222" stroke-width="1" stroke-opacity="0.6"/>
<line x1="97.99" y1="245" x2="100.09" y2="245" stroke="#222" stroke-width="1" stroke-opacity="0.6"/>
<circle cx="99.04" cy="252.8" r="1.15" fill="#999" stroke="#666" stroke-width="0.3"/>
<circle cx="99.04" cy="321.8" r="1.15" fill="#999" stroke="#666" stroke-width="0.3"/>
<line x1="107.42" y1="226.5" x2="107.42" y2="231" stroke="#1f77b4" stroke-width="1" stroke-opacity="0.5"/>
<line x1="107.42" y1="236.8" x2="107.42" y2="238.3" stroke="#1f77b4" stroke-width="1" stroke-opacity="0.5"/>
<rect x="105.32" y="231" width="4.19" height="5.8" fill="none" stroke="#1f77b4" stroke-width="1" stroke-opacity="0.5"/>
<line x1="105.32" y1="231.5" x2="109.51" y2="231.5" stroke="#2ca02c" stroke-width="1" stroke-opacity="0.5"/>
<line x1="106.37" y1="226.5" x2="108.47" y2="226.5" stroke="#222" stroke-width="1" stroke-opacity="0.6"/>
<line x1="106.37" y1="238.3" x2="108.47" y2="238.3" stroke="#222" stroke-width="1" stroke-opacity="0.6"/>
<circle cx="107.42" cy="222.1" r="1.15" fill="#999" stroke="#666" stroke-width="0.3"/>
<circle cx="107.42" cy="245.7" r="1.15" fill="#999" stroke="#666" stroke-width="0.3"/>
<circle cx="107.42" cy="250.4" r="1.15" fill="#999" stroke="#666" stroke-width="0.3"/>
<line x1="115.8" y1="221.8" x2="115.8" y2="228.9" stroke="#1f77b4" stroke-width="1" stroke-opacity="0.5"/>
<line x1="115.8" y1="236.2" x2="115.8" y2="238.3" stroke="#1f77b4" stroke-width="1" stroke-opacity="0.5"/>
<rect x="113.7" y="228.9" width="4.19" height="7.3" fill="none" stroke="#1f77b4" stroke-width="1" stroke-opacity="0.5"/>
<line x1="113.7" y1="233.6" x2="117.89" y2="233.6" stroke="#2ca02c" stroke-width="1" stroke-opacity="0.5"/>
<line x1="114.75" y1="221.8" x2="116.84" y2="221.8" stroke="#222" stroke-width="1" stroke-opacity="0.6"/>
<line x1="114.75" y1="238.3" x2="116.84" y2="238.3" stroke="#222" stroke-width="1" stroke-opacity="0.6"/>
<line x1="124.17" y1="219.2" x2="124.17" y2="228.9" stroke="#1f77b4" stroke-width="1" stroke-opacity="0.5"/>
<line x1="124.17" y1="236.2" x2="124.17" y2="243.3" stroke="#1f77b4" stroke-width="1" stroke-opacity="0.5"/>
<rect x="122.08" y="228.9" width="4.19" height="7.3" fill="none" stroke="#1f77b4" stroke-width="1" stroke-opacity="0.5"/>
<line x1="122.08" y1="231.5" x2="126.27" y2="231.5" stroke="#2ca02c" stroke-width="1" stroke-opacity="0.5"/>
<line x1="123.13" y1="219.2" x2="125.22" y2="219.2" stroke="#222" stroke-width="1" stroke-opacity="0.6"/>
<line x1="123.13" y1="243.3" x2="125.22" y2="243.3" stroke="#222" stroke-width="1" stroke-opacity="0.6"/>
<line x1="132.55" y1="219.2" x2="132.55" y2="228.9" stroke="#1f77b4" stroke-width="1" stroke-opacity="0.5"/>
<line x1="132.55" y1="236.2" x2="132.55" y2="240.7" stroke="#1f77b4" stroke-width="1" stroke-opacity="0.5"/>
<rect x="130.46" y="228.9" width="4.19" height="7.3" fill="none" stroke="#1f77b4" stroke-width="1" stroke-opacity="0.5"/>
<line x1="130.46" y1="231.5" x2="134.65" y2="231.5" stroke="#2ca02c" stroke-width="1" stroke-opacity="0.5"/>
<line x1="131.51" y1="219.2" x2="133.6" y2="219.2" stroke="#222" stroke-width="1" stroke-opacity="0.6"/>
<line x1="131.51" y1="240.7" x2="133.6" y2="240.7" stroke="#222" stroke-width="1" stroke-opacity="0.6"/>
<circle cx="132.55" cy="252.8" r="1.15" fill="#999" stroke="#666" stroke-width="0.3"/>
<circle cx="132.55" cy="260.1" r="1.15" fill="#999" stroke="#666" stroke-width="0.3"/>
<line x1="140.93" y1="216.9" x2="140.93" y2="228.4" stroke="#1f77b4" stroke-width="1" stroke-opacity="0.5"/>
<line x1="140.93" y1="239" x2="140.93" y2="245.4" stroke="#1f77b4" stroke-width="1" stroke-opacity="0.5"/>
<rect x="138.84" y="228.4" width="4.19" height="10.6" fill="none" stroke="#1f77b4" stroke-width="1" stroke-opacity="0.5"/>
<line x1="138.84" y1="233.6" x2="143.03" y2="233.6" stroke="#2ca02c" stroke-width="1" stroke-opacity="0.5"/>
<line x1="139.88" y1="216.9" x2="141.98" y2="216.9" stroke="#222" stroke-width="1" stroke-opacity="0.6"/>
<line x1="139.88" y1="245.4" x2="141.98" y2="245.4" stroke="#222" stroke-width="1" stroke-opacity="0.6"/>
<circle cx="140.93" cy="257.5" r="1.15" fill="#999" stroke="#666" stroke-width="0.3"/>
<line x1="149.31" y1="224.4" x2="149.31" y2="228.6" stroke="#1f77b4" stroke-width="1" stroke-opacity="0.5"/>
<line x1="149.31" y1="234.4" x2="149.31" y2="240.7" stroke="#1f77b4" stroke-width="1" stroke-opacity="0.5"/>
<rect x="147.22" y="228.6" width="4.19" height="5.8" fill="none" stroke="#1f77b4" stroke-width="1" stroke-opacity="0.5"/>
<line x1="147.22" y1="233.6" x2="151.41" y2="233.6" stroke="#2ca02c" stroke-width="1" stroke-opacity="0.5"/>
<line x1="148.26" y1="224.4" x2="150.36" y2="224.4" stroke="#222" stroke-width="1" stroke-opacity="0.6"/>
<line x1="148.26" y1="240.7" x2="150.36" y2="240.7" stroke="#222" stroke-width="1" stroke-opacity="0.6"/>
<circle cx="149.31" cy="264.6" r="1.15" fill="#999" stroke="#666" stroke-width="0.3"/>
<rect x="36.2" y="211.8" width="117.3" height="114.5" fill="none" stroke="#000" stroke-width="1" stroke-opacity="0.5"/>
<line x1="35" y1="214.7" x2="36.2" y2="214.7" stroke="#000" stroke-width="1" stroke-opacity="0.5"/>
<line x1="35" y1="233.72" x2="36.2" y2="233.72" stroke="#000" stroke-width="1" stroke-opacity="0.5"/>
<line x1="35" y1="252.74" x2="36.2" y2="252.74" stroke="#000" stroke-width="1" stroke-opacity="0.5"/>
<line x1="35" y1="271.76" x2="36.2" y2="271.76" stroke="#000" stroke-width="1" stroke-opacity="0.5"/>
<line x1="35" y1="290.78" x2="36.2" y2="290.78" stroke="#000" stroke-width="1" stroke-opacity="0.5"/>
<line x1="35" y1="309.8" x2="36.2" y2="309.8" stroke="#000" stroke-width="1" stroke-opacity="0.5"/>
<line x1="40.39" y1="326.3" x2="40.39" y2="327.5" stroke="#000" stroke-width="1" stroke-opacity="0.5"/>
<line x1="48.77" y1="326.3" x2="48.77" y2="327.5" stroke="#000" stroke-width="1" stroke-opacity="0.5"/>
<line x1="57.15" y1="326.3" x2="57.15" y2="327.5" stroke="#000" stroke-width="1" stroke-opacity="0.5"/>
<line x1="65.53" y1="326.3" x2="65.53" y2="327.5" stroke="#000" stroke-width="1" stroke-opacity="0.5"/>
<line x1="73.9" y1="326.3" x2="73.9" y2="327.5" stroke="#000" stroke-width="1" stroke-opacity="0.5"/>
<line x1="82.28" y1="326.3" x2="82.28" y2="327.5" stroke="#000" stroke-width="1" stroke-opacity="0.5"/>
<line x1="90.66" y1="326.3" x2="90.66" y2="327.5" stroke="#000" stroke-width="1" stroke-opacity="0.5"/>
<line x1="99.04" y1="326.3" x2="99.04" y2="327.5" stroke="#000" stroke-width="1" stroke-opacity="0.5"/>
<line x1="107.42" y1="326.3" x2="107.42" y2="327.5" stroke="#000" stroke-width="1" stroke-opacity="0.5"/>
<line x1="115.8" y1="326.3" x2="115.8" y2="327.5" stroke="#000" stroke-width="1" stroke-opacity="0.5"/>
<line x1="124.17" y1="326.3" x2="124.17" y2="327.5" stroke="#000" stroke-width="1" stroke-opacity="0.5"/>
<line x1="132.55" y1="326.3" x2="132.55" y2="327.5" stroke="#000" stroke-width="1" stroke-opacity="0.5"/>
<line x1="140.93" y1="326.3" x2="140.93" y2="327.5" stroke="#000" stroke-width="1" stroke-opacity="0.5"/>
<line x1="149.31" y1="326.3" x2="149.31" y2="327.5" stroke="#000" stroke-width="1" stroke-opacity="0.5"/>
<line x1="220.76" y1="249.33" x2="220.76" y2="271.35" stroke="#1f77b4" stroke-width="1" stroke-opacity="0.5"/>
<line x1="220.76" y1="297.37" x2="220.76" y2="321.4" stroke="#1f77b4" stroke-width="1" stroke-opacity="0.5"/>
<rect x="218.58" y="271.35" width="4.36" height="26.02" fill="none" stroke="#1f77b4" stroke-width="1" stroke-opacity="0.5"/>
<line x1="218.58" y1="281.36" x2="222.95" y2="281.36" stroke="#2ca02c" stroke-width="1" stroke-opacity="0.5"/>
<line x1="219.67" y1="249.33" x2="221.86" y2="249.33" stroke="#222" stroke-width="1" stroke-opacity="0.6"/>
<line x1="219.67" y1="321.4" x2="221.86" y2="321.4" stroke="#222" stroke-width="1" stroke-opacity="0.6"/>
<line x1="229.49" y1="249.33" x2="229.49" y2="255.34" stroke="#1f77b4" stroke-width="1" stroke-opacity="0.5"/>
<line x1="229.49" y1="297.37" x2="229.49" y2="321.4" stroke="#1f77b4" stroke-width="1" stroke-opacity="0.5"/>
<rect x="227.31" y="255.34" width="4.36" height="42.04" fill="none" stroke="#1f77b4" stroke-width="1" stroke-opacity="0.5"/>
<line x1="227.31" y1="277.36" x2="231.68" y2="277.36" stroke="#2ca02c" stroke-width="1" stroke-opacity="0.5"/>
<line x1="228.4" y1="249.33" x2="230.58" y2="249.33" stroke="#222" stroke-width="1" stroke-opacity="0.6"/>
<line x1="228.4" y1="321.4" x2="230.58" y2="321.4" stroke="#222" stroke-width="1" stroke-opacity="0.6"/>
<line x1="238.22" y1="217.3" x2="238.22" y2="249.33" stroke="#1f77b4" stroke-width="1" stroke-opacity="0.5"/>
<line x1="238.22" y1="273.35" x2="238.22" y2="289.37" stroke="#1f77b4" stroke-width="1" stroke-opacity="0.5"/>
<rect x="236.04" y="249.33" width="4.36" height="24.02" fill="none" stroke="#1f77b4" stroke-width="1" stroke-opacity="0.5"/>
<line x1="236.04" y1="261.34" x2="240.4" y2="261.34" stroke="#2ca02c" stroke-width="1" stroke-opacity="0.5"/>
<line x1="237.13" y1="217.3" x2="239.31" y2="217.3" stroke="#222" stroke-width="1" stroke-opacity="0.6"/>
<line x1="237.13" y1="289.37" x2="239.31" y2="289.37" stroke="#222" stroke-width="1" stroke-opacity="0.6"/>
<circle cx="238.22" cy="313.69" r="1.15" fill="#999" stroke="#666" stroke-width="0.3"/>
<circle cx="238.22" cy="321.7" r="1.15" fill="#999" stroke="#666" stroke-width="0.3"/>
<line x1="246.95" y1="249.33" x2="246.95" y2="257.34" stroke="#1f77b4" stroke-width="1" stroke-opacity="0.5"/>
<line x1="246.95" y1="299.38" x2="246.95" y2="313.39" stroke="#1f77b4" stroke-width="1" stroke-opacity="0.5"/>
<rect x="244.77" y="257.34" width="4.36" height="42.04" fill="none" stroke="#1f77b4" stroke-width="1" stroke-opacity="0.5"/>
<line x1="244.77" y1="273.35" x2="249.13" y2="273.35" stroke="#2ca02c" stroke-width="1" stroke-opacity="0.5"/>
<line x1="245.86" y1="249.33" x2="248.04" y2="249.33" stroke="#222" stroke-width="1" stroke-opacity="0.6"/>
<line x1="245.86" y1="313.39" x2="248.04" y2="313.39" stroke="#222" stroke-width="1" stroke-opacity="0.6"/>
<line x1="255.68" y1="249.33" x2="255.68" y2="257.34" stroke="#1f77b4" stroke-width="1" stroke-opacity="0.5"/>
<line x1="255.68" y1="289.37" x2="255.68" y2="305.38" stroke="#1f77b4" stroke-width="1" stroke-opacity="0.5"/>
<rect x="253.5" y="257.34" width="4.36" height="32.03" fill="none" stroke="#1f77b4" stroke-width="1" stroke-opacity="0.5"/>
<line x1="253.5" y1="273.35" x2="257.86" y2="273.35" stroke="#2ca02c" stroke-width="1" stroke-opacity="0.5"/>
<line x1="254.59" y1="249.33" x2="256.77" y2="249.33" stroke="#222" stroke-width="1" stroke-opacity="0.6"/>
<line x1="254.59" y1="305.38" x2="256.77" y2="305.38" stroke="#222" stroke-width="1" stroke-opacity="0.6"/>
<line x1="264.41" y1="257.34" x2="264.41" y2="273.35" stroke="#1f77b4" stroke-width="1" stroke-opacity="0.5"/>
<line x1="264.41" y1="289.37" x2="264.41" y2="297.37" stroke="#1f77b4" stroke-width="1" stroke-opacity="0.5"/>
<rect x="262.22" y="273.35" width="4.36" height="16.01" fill="none" stroke="#1f77b4" stroke-width="1" stroke-opacity="0.5"/>
<line x1="262.22" y1="277.36" x2="266.59" y2="277.36" stroke="#2ca02c" stroke-width="1" stroke-opacity="0.5"/>
<line x1="263.32" y1="257.34" x2="265.5" y2="257.34" stroke="#222" stroke-width="1" stroke-opacity="0.6"/>
<line x1="263.32" y1="297.37" x2="265.5" y2="297.37" stroke="#222" stroke-width="1" stroke-opacity="0.6"/>
<circle cx="264.41" cy="321.7" r="1.15" fill="#999" stroke="#666" stroke-width="0.3"/>
<line x1="273.14" y1="249.33" x2="273.14" y2="255.34" stroke="#1f77b4" stroke-width="1" stroke-opacity="0.5"/>
<line x1="273.14" y1="281.36" x2="273.14" y2="305.38" stroke="#1f77b4" stroke-width="1" stroke-opacity="0.5"/>
<rect x="270.95" y="255.34" width="4.36" height="26.02" fill="none" stroke="#1f77b4" stroke-width="1" stroke-opacity="0.5"/>
<line x1="270.95" y1="265.35" x2="275.32" y2="265.35" stroke="#2ca02c" stroke-width="1" stroke-opacity="0.5"/>
<line x1="272.04" y1="249.33" x2="274.23" y2="249.33" stroke="#222" stroke-width="1" stroke-opacity="0.6"/>
<line x1="272.04" y1="305.38" x2="274.23" y2="305.38" stroke="#222" stroke-width="1" stroke-opacity="0.6"/>
<line x1="281.86" y1="249.33" x2="281.86" y2="257.34" stroke="#1f77b4" stroke-width="1" stroke-opacity="0.5"/>
<line x1="281.86" y1="297.37" x2="281.86" y2="313.39" stroke="#1f77b4" stroke-width="1" stroke-opacity="0.5"/>
<rect x="279.68" y="257.34" width="4.36" height="40.03" fill="none" stroke="#1f77b4" stroke-width="1" stroke-opacity="0.5"/>
<line x1="279.68" y1="273.35" x2="284.05" y2="273.35" stroke="#2ca02c" stroke-width="1" stroke-opacity="0.5"/>
<line x1="280.77" y1="249.33" x2="282.96" y2="249.33" stroke="#222" stroke-width="1" stroke-opacity="0.6"/>
<line x1="280.77" y1="313.39" x2="282.96" y2="313.39" stroke="#222" stroke-width="1" stroke-opacity="0.6"/>
<line x1="290.59" y1="249.33" x2="290.59" y2="255.34" stroke="#1f77b4" stroke-width="1" stroke-opacity="0.5"/>
<line x1="290.59" y1="281.36" x2="290.59" y2="313.39" stroke="#1f77b4" stroke-width="1" stroke-opacity="0.5"/>
<rect x="288.41" y="255.34" width="4.36" height="26.02" fill="none" stroke="#1f77b4" stroke-width="1" stroke-opacity="0.5"/>
<line x1="288.41" y1="273.35" x2="292.78" y2="273.35" stroke="#2ca02c" stroke-width="1" stroke-opacity="0.5"/>
<line x1="289.5" y1="249.33" x2="291.68" y2="249.33" stroke="#222" stroke-width="1" stroke-opacity="0.6"/>
<line x1="289.5" y1="313.39" x2="291.68" y2="313.39" stroke="#222" stroke-width="1" stroke-opacity="0.6"/>
<line x1="299.32" y1="257.34" x2="299.32" y2="265.35" stroke="#1f77b4" stroke-width="1" stroke-opacity="0.5"/>
<line x1="299.32" y1="291.37" x2="299.32" y2="313.39" stroke="#1f77b4" stroke-width="1" stroke-opacity="0.5"/>
<rect x="297.14" y="265.35" width="4.36" height="26.02" fill="none" stroke="#1f77b4" stroke-width="1" stroke-opacity="0.5"/>
<line x1="297.14" y1="273.35" x2="301.5" y2="273.35" stroke="#2ca02c" stroke-width="1" stroke-opacity="0.5"/>
<line x1="298.23" y1="257.34" x2="300.41" y2="257.34" stroke="#222" stroke-width="1" stroke-opacity="0.6"/>
<line x1="298.23" y1="313.39" x2="300.41" y2="313.39" stroke="#222" stroke-width="1" stroke-opacity="0.6"/>
<line x1="308.05" y1="249.33" x2="308.05" y2="271.35" stroke="#1f77b4" stroke-width="1" stroke-opacity="0.5"/>
<line x1="308.05" y1="297.37" x2="308.05" y2="321.4" stroke="#1f77b4" stroke-width="1" stroke-opacity="0.5"/>
<rect x="305.87" y="271.35" width="4.36" height="26.02" fill="none" stroke="#1f77b4" stroke-width="1" stroke-opacity="0.5"/>
<line x1="305.87" y1="281.36" x2="310.23" y2="281.36" stroke="#2ca02c" stroke-width="1" stroke-opacity="0.5"/>
<line x1="306.96" y1="249.33" x2="309.14" y2="249.33" stroke="#222" stroke-width="1" stroke-opacity="0.6"/>
<line x1="306.96" y1="321.4" x2="309.14" y2="321.4" stroke="#222" stroke-width="1" stroke-opacity="0.6"/>
<line x1="316.78" y1="249.33" x2="316.78" y2="257.34" stroke="#1f77b4" stroke-width="1" stroke-opacity="0.5"/>
<line x1="316.78" y1="285.36" x2="316.78" y2="313.39" stroke="#1f77b4" stroke-width="1" stroke-opacity="0.5"/>
<rect x="314.6" y="257.34" width="4.36" height="28.02" fill="none" stroke="#1f77b4" stroke-width="1" stroke-opacity="0.5"/>
<line x1="314.6" y1="265.35" x2="318.96" y2="265.35" stroke="#2ca02c" stroke-width="1" stroke-opacity="0.5"/>
<line x1="315.69" y1="249.33" x2="317.87" y2="249.33" stroke="#222" stroke-width="1" stroke-opacity="0.6"/>
<line x1="315.69" y1="313.39" x2="317.87" y2="313.39" stroke="#222" stroke-width="1" stroke-opacity="0.6"/>
<line x1="325.51" y1="249.33" x2="325.51" y2="257.34" stroke="#1f77b4" stroke-width="1" stroke-opacity="0.5"/>
<line x1="325.51" y1="291.37" x2="325.51" y2="313.39" stroke="#1f77b4" stroke-width="1" stroke-opacity="0.5"/>
<rect x="323.32" y="257.34" width="4.36" height="34.03" fill="none" stroke="#1f77b4" stroke-width="1" stroke-opacity="0.5"/>
<line x1="323.32" y1="269.35" x2="327.69" y2="269.35" stroke="#2ca02c" stroke-width="1" stroke-opacity="0.5"/>
<line x1="324.42" y1="249.33" x2="326.6" y2="249.33" stroke="#222" stroke-width="1" stroke-opacity="0.6"/>
<line x1="324.42" y1="313.39" x2="326.6" y2="313.39" stroke="#222" stroke-width="1" stroke-opacity="0.6"/>
<line x1="334.24" y1="249.33" x2="334.24" y2="263.34" stroke="#1f77b4" stroke-width="1" stroke-opacity="0.5"/>
<line x1="334.24" y1="299.38" x2="334.24" y2="321.4" stroke="#1f77b4" stroke-width="1" stroke-opacity="0.5"/>
<rect x="332.05" y="263.34" width="4.36" height="36.03" fill="none" stroke="#1f77b4" stroke-width="1" stroke-opacity="0.5"/>
<line x1="332.05" y1="273.35" x2="336.42" y2="273.35" stroke="#2ca02c" stroke-width="1" stroke-opacity="0.5"/>
<line x1="333.14" y1="249.33" x2="335.33" y2="249.33" stroke="#222" stroke-width="1" stroke-opacity="0.6"/>
<line x1="333.14" y1="321.4" x2="335.33" y2="321.4" stroke="#222" stroke-width="1" stroke-opacity="0.6"/>
<rect x="216.4" y="212" width="122.2" height="114.2" fill="none" stroke="#000" stroke-width="1" stroke-opacity="0.5"/>
<line x1="215.2" y1="217.3" x2="216.4" y2="217.3" stroke="#000" stroke-width="1" stroke-opacity="0.5"/>
<line x1="215.2" y1="233.32" x2="216.4" y2="233.32" stroke="#000" stroke-width="1" stroke-opacity="0.5"/>
<line x1="215.2" y1="249.33" x2="216.4" y2="249.33" stroke="#000" stroke-width="1" stroke-opacity="0.5"/>
<line x1="215.2" y1="265.35" x2="216.4" y2="265.35" stroke="#000" stroke-width="1" stroke-opacity="0.5"/>
<line x1="215.2" y1="281.36" x2="216.4" y2="281.36" stroke="#000" stroke-width="1" stroke-opacity="0.5"/>
<line x1="215.2" y1="297.37" x2="216.4" y2="297.37" stroke="#000" stroke-width="1" stroke-opacity="0.5"/>
<line x1="215.2" y1="313.39" x2="216.4" y2="313.39" stroke="#000" stroke-width="1" stroke-opacity="0.5"/>
<line x1="220.76" y1="326.2" x2="220.76" y2="327.4" stroke="#000" stroke-width="1" stroke-opacity="0.5"/>
<line x1="229.49" y1="326.2" x2="229.49" y2="327.4" stroke="#000" stroke-width="1" stroke-opacity="0.5"/>
<line x1="238.22" y1="326.2" x2="238.22" y2="327.4" stroke="#000" stroke-width="1" stroke-opacity="0.5"/>
<line x1="246.95" y1="326.2" x2="246.95" y2="327.4" stroke="#000" stroke-width="1" stroke-opacity="0.5"/>
<line x1="255.68" y1="326.2" x2="255.68" y2="327.4" stroke="#000" stroke-width="1" stroke-opacity="0.5"/>
<line x1="264.41" y1="326.2" x2="264.41" y2="327.4" stroke="#000" stroke-width="1" stroke-opacity="0.5"/>
<line x1="273.14" y1="326.2" x2="273.14" y2="327.4" stroke="#000" stroke-width="1" stroke-opacity="0.5"/>
<line x1="281.86" y1="326.2" x2="281.86" y2="327.4" stroke="#000" stroke-width="1" stroke-opacity="0.5"/>
<line x1="290.59" y1="326.2" x2="290.59" y2="327.4" stroke="#000" stroke-width="1" stroke-opacity="0.5"/>
<line x1="299.32" y1="326.2" x2="299.32" y2="327.4" stroke="#000" stroke-width="1" stroke-opacity="0.5"/>
<line x1="308.05" y1="326.2" x2="308.05" y2="327.4" stroke="#000" stroke-width="1" stroke-opacity="0.5"/>
<line x1="316.78" y1="326.2" x2="316.78" y2="327.4" stroke="#000" stroke-width="1" stroke-opacity="0.5"/>
<line x1="325.51" y1="326.2" x2="325.51" y2="327.4" stroke="#000" stroke-width="1" stroke-opacity="0.5"/>
<line x1="334.24" y1="326.2" x2="334.24" y2="327.4" stroke="#000" stroke-width="1" stroke-opacity="0.5"/>
<line x1="40.39" y1="408.3" x2="40.39" y2="410.3" stroke="#1f77b4" stroke-width="1" stroke-opacity="0.5"/>
<line x1="40.39" y1="414.3" x2="40.39" y2="418.3" stroke="#1f77b4" stroke-width="1" stroke-opacity="0.5"/>
<rect x="38.29" y="410.3" width="4.19" height="4" fill="none" stroke="#1f77b4" stroke-width="1" stroke-opacity="0.5"/>
<line x1="38.29" y1="412" x2="42.48" y2="412" stroke="#2ca02c" stroke-width="1" stroke-opacity="0.5"/>
<line x1="39.34" y1="408.3" x2="41.44" y2="408.3" stroke="#222" stroke-width="1" stroke-opacity="0.6"/>
<line x1="39.34" y1="418.3" x2="41.44" y2="418.3" stroke="#222" stroke-width="1" stroke-opacity="0.6"/>
<circle cx="40.39" cy="423.3" r="1.15" fill="#999" stroke="#666" stroke-width="0.3"/>
<line x1="48.77" y1="408.3" x2="48.77" y2="410.3" stroke="#1f77b4" stroke-width="1" stroke-opacity="0.5"/>
<line x1="48.77" y1="414.3" x2="48.77" y2="419.3" stroke="#1f77b4" stroke-width="1" stroke-opacity="0.5"/>
<rect x="46.67" y="410.3" width="4.19" height="4" fill="none" stroke="#1f77b4" stroke-width="1" stroke-opacity="0.5"/>
<line x1="46.67" y1="412.3" x2="50.86" y2="412.3" stroke="#2ca02c" stroke-width="1" stroke-opacity="0.5"/>
<line x1="47.72" y1="408.3" x2="49.82" y2="408.3" stroke="#222" stroke-width="1" stroke-opacity="0.6"/>
<line x1="47.72" y1="419.3" x2="49.82" y2="419.3" stroke="#222" stroke-width="1" stroke-opacity="0.6"/>
<circle cx="48.77" cy="437.1" r="1.15" fill="#999" stroke="#666" stroke-width="0.3"/>
<circle cx="48.77" cy="441.4" r="1.15" fill="#999" stroke="#666" stroke-width="0.3"/>
<line x1="57.15" y1="406.5" x2="57.15" y2="411.3" stroke="#1f77b4" stroke-width="1" stroke-opacity="0.5"/>
<line x1="57.15" y1="415.7" x2="57.15" y2="417.2" stroke="#1f77b4" stroke-width="1" stroke-opacity="0.5"/>
<rect x="55.05" y="411.3" width="4.19" height="4.4" fill="none" stroke="#1f77b4" stroke-width="1" stroke-opacity="0.5"/>
<line x1="55.05" y1="413.3" x2="59.24" y2="413.3" stroke="#2ca02c" stroke-width="1" stroke-opacity="0.5"/>
<line x1="56.1" y1="406.5" x2="58.19" y2="406.5" stroke="#222" stroke-width="1" stroke-opacity="0.6"/>
<line x1="56.1" y1="417.2" x2="58.19" y2="417.2" stroke="#222" stroke-width="1" stroke-opacity="0.6"/>
<circle cx="57.15" cy="423" r="1.15" fill="#999" stroke="#666" stroke-width="0.3"/>
<circle cx="57.15" cy="433.9" r="1.15" fill="#999" stroke="#666" stroke-width="0.3"/>
<circle cx="57.15" cy="470.4" r="1.15" fill="#999" stroke="#666" stroke-width="0.3"/>
<line x1="65.53" y1="411" x2="65.53" y2="411.3" stroke="#1f77b4" stroke-width="1" stroke-opacity="0.5"/>
<line x1="65.53" y1="414.3" x2="65.53" y2="415.5" stroke="#1f77b4" stroke-width="1" stroke-opacity="0.5"/>
<rect x="63.43" y="411.3" width="4.19" height="3" fill="none" stroke="#1f77b4" stroke-width="1" stroke-opacity="0.5"/>
<line x1="63.43" y1="413" x2="67.62" y2="413" stroke="#2ca02c" stroke-width="1" stroke-opacity="0.5"/>
<line x1="64.48" y1="411" x2="66.57" y2="411" stroke="#222" stroke-width="1" stroke-opacity="0.6"/>
<line x1="64.48" y1="415.5" x2="66.57" y2="415.5" stroke="#222" stroke-width="1" stroke-opacity="0.6"/>
<circle cx="65.53" cy="408.2" r="1.15" fill="#999" stroke="#666" stroke-width="0.3"/>
<circle cx="65.53" cy="418.2" r="1.15" fill="#999" stroke="#666" stroke-width="0.3"/>
<line x1="73.9" y1="402.3" x2="73.9" y2="409.3" stroke="#1f77b4" stroke-width="1" stroke-opacity="0.5"/>
<line x1="73.9" y1="415.2" x2="73.9" y2="417.2" stroke="#1f77b4" stroke-width="1" stroke-opacity="0.5"/>
<rect x="71.81" y="409.3" width="4.19" height="5.9" fill="none" stroke="#1f77b4" stroke-width="1" stroke-opacity="0.5"/>
<line x1="71.81" y1="412.3" x2="76" y2="412.3" stroke="#2ca02c" stroke-width="1" stroke-opacity="0.5"/>
<line x1="72.86" y1="402.3" x2="74.95" y2="402.3" stroke="#222" stroke-width="1" stroke-opacity="0.6"/>
<line x1="72.86" y1="417.2" x2="74.95" y2="417.2" stroke="#222" stroke-width="1" stroke-opacity="0.6"/>
<line x1="82.28" y1="408" x2="82.28" y2="410" stroke="#1f77b4" stroke-width="1" stroke-opacity="0.5"/>
<line x1="82.28" y1="416.1" x2="82.28" y2="423.3" stroke="#1f77b4" stroke-width="1" stroke-opacity="0.5"/>
<rect x="80.19" y="410" width="4.19" height="6.1" fill="none" stroke="#1f77b4" stroke-width="1" stroke-opacity="0.5"/>
<line x1="80.19" y1="411.5" x2="84.38" y2="411.5" stroke="#2ca02c" stroke-width="1" stroke-opacity="0.5"/>
<line x1="81.23" y1="408" x2="83.33" y2="408" stroke="#222" stroke-width="1" stroke-opacity="0.6"/>
<line x1="81.23" y1="423.3" x2="83.33" y2="423.3" stroke="#222" stroke-width="1" stroke-opacity="0.6"/>
<line x1="90.66" y1="409" x2="90.66" y2="411.9" stroke="#1f77b4" stroke-width="1" stroke-opacity="0.5"/>
<line x1="90.66" y1="414.3" x2="90.66" y2="419.3" stroke="#1f77b4" stroke-width="1" stroke-opacity="0.5"/>
<rect x="88.57" y="411.9" width="4.19" height="2.4" fill="none" stroke="#1f77b4" stroke-width="1" stroke-opacity="0.5"/>
<line x1="88.57" y1="413.3" x2="92.76" y2="413.3" stroke="#2ca02c" stroke-width="1" stroke-opacity="0.5"/>
<line x1="89.61" y1="409" x2="91.71" y2="409" stroke="#222" stroke-width="1" stroke-opacity="0.6"/>
<line x1="89.61" y1="419.3" x2="91.71" y2="419.3" stroke="#222" stroke-width="1" stroke-opacity="0.6"/>
<circle cx="90.66" cy="406.2" r="1.15" fill="#999" stroke="#666" stroke-width="0.3"/>
<circle cx="90.66" cy="425" r="1.15" fill="#999" stroke="#666" stroke-width="0.3"/>
<line x1="99.04" y1="405.3" x2="99.04" y2="410.7" stroke="#1f77b4" stroke-width="1" stroke-opacity="0.5"/>
<line x1="99.04" y1="416" x2="99.04" y2="419.3" stroke="#1f77b4" stroke-width="1" stroke-opacity="0.5"/>
<rect x="96.94" y="410.7" width="4.19" height="5.3" fill="none" stroke="#1f77b4" stroke-width="1" stroke-opacity="0.5"/>
<line x1="96.94" y1="413.3" x2="101.13" y2="413.3" stroke="#2ca02c" stroke-width="1" stroke-opacity="0.5"/>
<line x1="97.99" y1="405.3" x2="100.09" y2="405.3" stroke="#222" stroke-width="1" stroke-opacity="0.6"/>
<line x1="97.99" y1="419.3" x2="100.09" y2="419.3" stroke="#222" stroke-width="1" stroke-opacity="0.6"/>
<circle cx="99.04" cy="506.4" r="1.15" fill="#999" stroke="#666" stroke-width="0.3"/>
<line x1="107.42" y1="408.5" x2="107.42" y2="411" stroke="#1f77b4" stroke-width="1" stroke-opacity="0.5"/>
<line x1="107.42" y1="414.3" x2="107.42" y2="416" stroke="#1f77b4" stroke-width="1" stroke-opacity="0.5"/>
<rect x="105.32" y="411" width="4.19" height="3.3" fill="none" stroke="#1f77b4" stroke-width="1" stroke-opacity="0.5"/>
<line x1="105.32" y1="412.7" x2="109.51" y2="412.7" stroke="#2ca02c" stroke-width="1" stroke-opacity="0.5"/>
<line x1="106.37" y1="408.5" x2="108.47" y2="408.5" stroke="#222" stroke-width="1" stroke-opacity="0.6"/>
<line x1="106.37" y1="416" x2="108.47" y2="416" stroke="#222" stroke-width="1" stroke-opacity="0.6"/>
<circle cx="107.42" cy="404.6" r="1.15" fill="#999" stroke="#666" stroke-width="0.3"/>
<circle cx="107.42" cy="422.3" r="1.15" fill="#999" stroke="#666" stroke-width="0.3"/>
<line x1="115.8" y1="407.7" x2="115.8" y2="412.1" stroke="#1f77b4" stroke-width="1" stroke-opacity="0.5"/>
<line x1="115.8" y1="415.3" x2="115.8" y2="420.3" stroke="#1f77b4" stroke-width="1" stroke-opacity="0.5"/>
<rect x="113.7" y="412.1" width="4.19" height="3.2" fill="none" stroke="#1f77b4" stroke-width="1" stroke-opacity="0.5"/>
<line x1="113.7" y1="413.7" x2="117.89" y2="413.7" stroke="#2ca02c" stroke-width="1" stroke-opacity="0.5"/>
<line x1="114.75" y1="407.7" x2="116.84" y2="407.7" stroke="#222" stroke-width="1" stroke-opacity="0.6"/>
<line x1="114.75" y1="420.3" x2="116.84" y2="420.3" stroke="#222" stroke-width="1" stroke-opacity="0.6"/>
<line x1="124.17" y1="406.5" x2="124.17" y2="410" stroke="#1f77b4" stroke-width="1" stroke-opacity="0.5"/>
<line x1="124.17" y1="415" x2="124.17" y2="421.3" stroke="#1f77b4" stroke-width="1" stroke-opacity="0.5"/>
<rect x="122.08" y="410" width="4.19" height="5" fill="none" stroke="#1f77b4" stroke-width="1" stroke-opacity="0.5"/>
<line x1="122.08" y1="412" x2="126.27" y2="412" stroke="#2ca02c" stroke-width="1" stroke-opacity="0.5"/>
<line x1="123.13" y1="406.5" x2="125.22" y2="406.5" stroke="#222" stroke-width="1" stroke-opacity="0.6"/>
<line x1="123.13" y1="421.3" x2="125.22" y2="421.3" stroke="#222" stroke-width="1" stroke-opacity="0.6"/>
<line x1="132.55" y1="408.5" x2="132.55" y2="411.3" stroke="#1f77b4" stroke-width="1" stroke-opacity="0.5"/>
<line x1="132.55" y1="416" x2="132.55" y2="423.3" stroke="#1f77b4" stroke-width="1" stroke-opacity="0.5"/>
<rect x="130.46" y="411.3" width="4.19" height="4.7" fill="none" stroke="#1f77b4" stroke-width="1" stroke-opacity="0.5"/>
<line x1="130.46" y1="413" x2="134.65" y2="413" stroke="#2ca02c" stroke-width="1" stroke-opacity="0.5"/>
<line x1="131.51" y1="408.5" x2="133.6" y2="408.5" stroke="#222" stroke-width="1" stroke-opacity="0.6"/>
<line x1="131.51" y1="423.3" x2="133.6" y2="423.3" stroke="#222" stroke-width="1" stroke-opacity="0.6"/>
<circle cx="132.55" cy="439.3" r="1.15" fill="#999" stroke="#666" stroke-width="0.3"/>
<line x1="140.93" y1="409.3" x2="140.93" y2="413.3" stroke="#1f77b4" stroke-width="1" stroke-opacity="0.5"/>
<line x1="140.93" y1="417.5" x2="140.93" y2="419.5" stroke="#1f77b4" stroke-width="1" stroke-opacity="0.5"/>
<rect x="138.84" y="413.3" width="4.19" height="4.2" fill="none" stroke="#1f77b4" stroke-width="1" stroke-opacity="0.5"/>
<line x1="138.84" y1="413.7" x2="143.03" y2="413.7" stroke="#2ca02c" stroke-width="1" stroke-opacity="0.5"/>
<line x1="139.88" y1="409.3" x2="141.98" y2="409.3" stroke="#222" stroke-width="1" stroke-opacity="0.6"/>
<line x1="139.88" y1="419.5" x2="141.98" y2="419.5" stroke="#222" stroke-width="1" stroke-opacity="0.6"/>
<circle cx="140.93" cy="406.6" r="1.15" fill="#999" stroke="#666" stroke-width="0.3"/>
<circle cx="140.93" cy="441" r="1.15" fill="#999" stroke="#666" stroke-width="0.3"/>
<circle cx="140.93" cy="447.4" r="1.15" fill="#999" stroke="#666" stroke-width="0.3"/>
<line x1="149.31" y1="408.5" x2="149.31" y2="410.3" stroke="#1f77b4" stroke-width="1" stroke-opacity="0.5"/>
<line x1="149.31" y1="416" x2="149.31" y2="422.5" stroke="#1f77b4" stroke-width="1" stroke-opacity="0.5"/>
<rect x="147.22" y="410.3" width="4.19" height="5.7" fill="none" stroke="#1f77b4" stroke-width="1" stroke-opacity="0.5"/>
<line x1="147.22" y1="412" x2="151.41" y2="412" stroke="#2ca02c" stroke-width="1" stroke-opacity="0.5"/>
<line x1="148.26" y1="408.5" x2="150.36" y2="408.5" stroke="#222" stroke-width="1" stroke-opacity="0.6"/>
<line x1="148.26" y1="422.5" x2="150.36" y2="422.5" stroke="#222" stroke-width="1" stroke-opacity="0.6"/>
<rect x="36.2" y="397.2" width="117.3" height="114.1" fill="none" stroke="#000" stroke-width="1" stroke-opacity="0.5"/>
<line x1="35" y1="411.7" x2="36.2" y2="411.7" stroke="#000" stroke-width="1" stroke-opacity="0.5"/>
<line x1="35" y1="432.73" x2="36.2" y2="432.73" stroke="#000" stroke-width="1" stroke-opacity="0.5"/>
<line x1="35" y1="453.75" x2="36.2" y2="453.75" stroke="#000" stroke-width="1" stroke-opacity="0.5"/>
<line x1="35" y1="474.77" x2="36.2" y2="474.77" stroke="#000" stroke-width="1" stroke-opacity="0.5"/>
<line x1="35" y1="495.8" x2="36.2" y2="495.8" stroke="#000" stroke-width="1" stroke-opacity="0.5"/>
<line x1="40.39" y1="511.3" x2="40.39" y2="512.5" stroke="#000" stroke-width="1" stroke-opacity="0.5"/>
<line x1="48.77" y1="511.3" x2="48.77" y2="512.5" stroke="#000" stroke-width="1" stroke-opacity="0.5"/>
<line x1="57.15" y1="511.3" x2="57.15" y2="512.5" stroke="#000" stroke-width="1" stroke-opacity="0.5"/>
<line x1="65.53" y1="511.3" x2="65.53" y2="512.5" stroke="#000" stroke-width="1" stroke-opacity="0.5"/>
<line x1="73.9" y1="511.3" x2="73.9" y2="512.5" stroke="#000" stroke-width="1" stroke-opacity="0.5"/>
<line x1="82.28" y1="511.3" x2="82.28" y2="512.5" stroke="#000" stroke-width="1" stroke-opacity="0.5"/>
<line x1="90.66" y1="511.3" x2="90.66" y2="512.5" stroke="#000" stroke-width="1" stroke-opacity="0.5"/>
<line x1="99.04" y1="511.3" x2="99.04" y2="512.5" stroke="#000" stroke-width="1" stroke-opacity="0.5"/>
<line x1="107.42" y1="511.3" x2="107.42" y2="512.5" stroke="#000" stroke-width="1" stroke-opacity="0.5"/>
<line x1="115.8" y1="511.3" x2="115.8" y2="512.5" stroke="#000" stroke-width="1" stroke-opacity="0.5"/>
<line x1="124.17" y1="511.3" x2="124.17" y2="512.5" stroke="#000" stroke-width="1" stroke-opacity="0.5"/>
<line x1="132.55" y1="511.3" x2="132.55" y2="512.5" stroke="#000" stroke-width="1" stroke-opacity="0.5"/>
<line x1="140.93" y1="511.3" x2="140.93" y2="512.5" stroke="#000" stroke-width="1" stroke-opacity="0.5"/>
<line x1="149.31" y1="511.3" x2="149.31" y2="512.5" stroke="#000" stroke-width="1" stroke-opacity="0.5"/>
<circle cx="229.43" cy="402.1" r="1.05" fill="#0a58a2"/>
<circle cx="237.47" cy="487.3" r="1.05" fill="#0a58a2"/>
<circle cx="245.51" cy="457.2" r="1.05" fill="#0a58a2"/>
<circle cx="253.55" cy="446.5" r="1.05" fill="#0a58a2"/>
<circle cx="261.6" cy="428.9" r="1.05" fill="#0a58a2"/>
<circle cx="269.64" cy="467.5" r="1.05" fill="#0a58a2"/>
<circle cx="277.68" cy="425.7" r="1.05" fill="#0a58a2"/>
<circle cx="285.72" cy="506.6" r="1.05" fill="#0a58a2"/>
<circle cx="293.76" cy="434.7" r="1.05" fill="#0a58a2"/>
<circle cx="301.8" cy="407.9" r="1.05" fill="#0a58a2"/>
<circle cx="309.85" cy="417.5" r="1.05" fill="#0a58a2"/>
<circle cx="317.89" cy="446.9" r="1.05" fill="#0a58a2"/>
<circle cx="325.93" cy="443.9" r="1.05" fill="#0a58a2"/>
<circle cx="333.97" cy="443.1" r="1.05" fill="#0a58a2"/>
<rect x="224.2" y="397.3" width="115" height="113.9" fill="none" stroke="#000" stroke-width="1" stroke-opacity="0.5"/>
<line x1="223" y1="404.7" x2="224.2" y2="404.7" stroke="#000" stroke-width="1" stroke-opacity="0.5"/>
<line x1="223" y1="418.4" x2="224.2" y2="418.4" stroke="#000" stroke-width="1" stroke-opacity="0.5"/>
<line x1="223" y1="432.1" x2="224.2" y2="432.1" stroke="#000" stroke-width="1" stroke-opacity="0.5"/>
<line x1="223" y1="445.8" x2="224.2" y2="445.8" stroke="#000" stroke-width="1" stroke-opacity="0.5"/>
<line x1="223" y1="459.5" x2="224.2" y2="459.5" stroke="#000" stroke-width="1" stroke-opacity="0.5"/>
<line x1="223" y1="473.2" x2="224.2" y2="473.2" stroke="#000" stroke-width="1" stroke-opacity="0.5"/>
<line x1="223" y1="486.9" x2="224.2" y2="486.9" stroke="#000" stroke-width="1" stroke-opacity="0.5"/>
<line x1="223" y1="500.6" x2="224.2" y2="500.6" stroke="#000" stroke-width="1" stroke-opacity="0.5"/>
<line x1="229.43" y1="511.2" x2="229.43" y2="512.4" stroke="#000" stroke-width="1" stroke-opacity="0.5"/>
<line x1="237.47" y1="511.2" x2="237.47" y2="512.4" stroke="#000" stroke-width="1" stroke-opacity="0.5"/>
<line x1="245.51" y1="511.2" x2="245.51" y2="512.4" stroke="#000" stroke-width="1" stroke-opacity="0.5"/>
<line x1="253.55" y1="511.2" x2="253.55" y2="512.4" stroke="#000" stroke-width="1" stroke-opacity="0.5"/>
<line x1="261.6" y1="511.2" x2="261.6" y2="512.4" stroke="#000" stroke-width="1" stroke-opacity="0.5"/>
<line x1="269.64" y1="511.2" x2="269.64" y2="512.4" stroke="#000" stroke-width="1" stroke-opacity="0.5"/>
<line x1="277.68" y1="511.2" x2="277.68" y2="512.4" stroke="#000" stroke-width="1" stroke-opacity="0.5"/>
<line x1="285.72" y1="511.2" x2="285.72" y2="512.4" stroke="#000" stroke-width="1" stroke-opacity="0.5"/>
<line x1="293.76" y1="511.2" x2="293.76" y2="512.4" stroke="#000" stroke-width="1" stroke-opacity="0.5"/>
<line x1="301.8" y1="511.2" x2="301.8" y2="512.4" stroke="#000" stroke-width="1" stroke-opacity="0.5"/>
<line x1="309.85" y1="511.2" x2="309.85" y2="512.4" stroke="#000" stroke-width="1" stroke-opacity="0.5"/>
<line x1="317.89" y1="511.2" x2="317.89" y2="512.4" stroke="#000" stroke-width="1" stroke-opacity="0.5"/>
<line x1="325.93" y1="511.2" x2="325.93" y2="512.4" stroke="#000" stroke-width="1" stroke-opacity="0.5"/>
<line x1="333.97" y1="511.2" x2="333.97" y2="512.4" stroke="#000" stroke-width="1" stroke-opacity="0.5"/>
</g>
<g filter="url(#st)">
<text transform="translate(31 31.7) rotate(0.05)" font-size="5" text-anchor="end" dominant-baseline="central">1.0</text>
<text transform="translate(31 44.79) rotate(0.05)" font-size="5" text-anchor="end" dominant-baseline="central">0.9</text>
<text transform="translate(31 57.88) rotate(0.05)" font-size="5" text-anchor="end" dominant-baseline="central">0.8</text>
<text transform="translate(31 70.96) rotate(0.05)" font-size="5" text-anchor="end" dominant-baseline="central">0.7</text>
<text transform="translate(31 84.05) rotate(0.05)" font-size="5" text-anchor="end" dominant-baseline="central">0.6</text>
<text transform="translate(31 97.14) rotate(0.05)" font-size="5" text-anchor="end" dominant-baseline="central">0.5</text>
<text transform="translate(31 110.22) rotate(0.05)" font-size="5" text-anchor="end" dominant-baseline="central">0.4</text>
<text transform="translate(31 123.31) rotate(0.05)" font-size="5" text-anchor="end" dominant-baseline="central">0.3</text>
<text transform="translate(31 136.4) rotate(0.05)" font-size="5" text-anchor="end" dominant-baseline="central">0.2</text>
<text transform="translate(37.8 151.01) rotate(-45)" font-size="4.8" text-anchor="middle" dominant-baseline="central">2.2.0</text>
<text transform="translate(46.4 151.01) rotate(-45)" font-size="4.8" text-anchor="middle" dominant-baseline="central">2.2.3</text>
<text transform="translate(55 151.01) rotate(-45)" font-size="4.8" text-anchor="middle" dominant-baseline="central">2.3.0</text>
<text transform="translate(63.6 151.01) rotate(-45)" font-size="4.8" text-anchor="middle" dominant-baseline="central">2.3.4</text>
<text transform="translate(72.2 151.01) rotate(-45)" font-size="4.8" text-anchor="middle" dominant-baseline="central">2.4.0</text>
<text transform="translate(80.8 151.01) rotate(-45)" font-size="4.8" text-anchor="middle" dominant-baseline="central">2.4.4</text>
<text transform="translate(89.4 151.01) rotate(-45)" font-size="4.8" text-anchor="middle" dominant-baseline="central">2.5.0</text>
<text transform="translate(98 151.01) rotate(-45)" font-size="4.8" text-anchor="middle" dominant-baseline="central">2.5.3</text>
<text transform="translate(106.6 151.01) rotate(-45)" font-size="4.8" text-anchor="middle" dominant-baseline="central">2.6.2</text>
<text transform="translate(115.2 151.01) rotate(-45)" font-size="4.8" text-anchor="middle" dominant-baseline="central">2.6.3</text>
<text transform="translate(123.8 151.01) rotate(-45)" font-size="4.8" text-anchor="middle" dominant-baseline="central">2.7.0</text>
<text transform="translate(132.4 151.01) rotate(-45)" font-size="4.8" text-anchor="middle" dominant-baseline="central">2.7.1</text>
<text transform="translate(141 151.01) rotate(-45)" font-size="4.8" text-anchor="middle" dominant-baseline="central">2.8.0</text>
<text transform="translate(149.6 154.33) rotate(-45)" font-size="4.8" text-anchor="middle" dominant-baseline="central">2.9.0-rc2</text>
<text class="s" transform="translate(90.5 9.7) rotate(0.05)" font-size="10" text-anchor="middle" textLength="61.5" lengthAdjust="spacingAndGlyphs">Initial accuracy</text>
<text class="s" transform="translate(7.9 95) rotate(-89.95)" font-size="10" text-anchor="middle" textLength="36" lengthAdjust="spacingAndGlyphs">accuracy</text>
<text class="s" transform="translate(90.7 177.3) rotate(0.05)" font-size="10" text-anchor="middle" textLength="30" lengthAdjust="spacingAndGlyphs">version</text>
<text transform="translate(219 30.4) rotate(0.05)" font-size="5" text-anchor="end" dominant-baseline="central">1.00</text>
<text transform="translate(219 49.5) rotate(0.05)" font-size="5" text-anchor="end" dominant-baseline="central">0.98</text>
<text transform="translate(219 68.6) rotate(0.05)" font-size="5" text-anchor="end" dominant-baseline="central">0.96</text>
<text transform="translate(219 87.7) rotate(0.05)" font-size="5" text-anchor="end" dominant-baseline="central">0.94</text>
<text transform="translate(219 106.8) rotate(0.05)" font-size="5" text-anchor="end" dominant-baseline="central">0.92</text>
<text transform="translate(219 125.9) rotate(0.05)" font-size="5" text-anchor="end" dominant-baseline="central">0.90</text>
<text transform="translate(225.7 151.01) rotate(-45)" font-size="4.8" text-anchor="middle" dominant-baseline="central">2.2.0</text>
<text transform="translate(234.1 151.01) rotate(-45)" font-size="4.8" text-anchor="middle" dominant-baseline="central">2.2.3</text>
<text transform="translate(242.5 151.01) rotate(-45)" font-size="4.8" text-anchor="middle" dominant-baseline="central">2.3.0</text>
<text transform="translate(250.9 151.01) rotate(-45)" font-size="4.8" text-anchor="middle" dominant-baseline="central">2.3.4</text>
<text transform="translate(259.3 151.01) rotate(-45)" font-size="4.8" text-anchor="middle" dominant-baseline="central">2.4.0</text>
<text transform="translate(267.7 151.01) rotate(-45)" font-size="4.8" text-anchor="middle" dominant-baseline="central">2.4.4</text>
<text transform="translate(276.1 151.01) rotate(-45)" font-size="4.8" text-anchor="middle" dominant-baseline="central">2.5.0</text>
<text transform="translate(284.5 151.01) rotate(-45)" font-size="4.8" text-anchor="middle" dominant-baseline="central">2.5.3</text>
<text transform="translate(292.9 151.01) rotate(-45)" font-size="4.8" text-anchor="middle" dominant-baseline="central">2.6.2</text>
<text transform="translate(301.3 151.01) rotate(-45)" font-size="4.8" text-anchor="middle" dominant-baseline="central">2.6.3</text>
<text transform="translate(309.7 151.01) rotate(-45)" font-size="4.8" text-anchor="middle" dominant-baseline="central">2.7.0</text>
<text transform="translate(318.1 151.01) rotate(-45)" font-size="4.8" text-anchor="middle" dominant-baseline="central">2.7.1</text>
<text transform="translate(326.5 151.01) rotate(-45)" font-size="4.8" text-anchor="middle" dominant-baseline="central">2.8.0</text>
<text transform="translate(334.9 154.33) rotate(-45)" font-size="4.8" text-anchor="middle" dominant-baseline="central">2.9.0-rc2</text>
<text class="s" transform="translate(275.8 9.7) rotate(0.05)" font-size="10" text-anchor="middle" textLength="58.5" lengthAdjust="spacingAndGlyphs">Final accuracy</text>
<text class="s" transform="translate(192.3 94.4) rotate(-89.95)" font-size="10" text-anchor="middle" textLength="35.5" lengthAdjust="spacingAndGlyphs">accuracy</text>
<text class="s" transform="translate(276.1 177.4) rotate(0.05)" font-size="10" text-anchor="middle" textLength="30" lengthAdjust="spacingAndGlyphs">version</text>
<text transform="translate(34.2 215.8) rotate(0.05)" font-size="5" text-anchor="end" dominant-baseline="central">1.00</text>
<text transform="translate(34.2 234.82) rotate(0.05)" font-size="5" text-anchor="end" dominant-baseline="central">0.98</text>
<text transform="translate(34.2 253.84) rotate(0.05)" font-size="5" text-anchor="end" dominant-baseline="central">0.96</text>
<text transform="translate(34.2 272.86) rotate(0.05)" font-size="5" text-anchor="end" dominant-baseline="central">0.94</text>
<text transform="translate(34.2 291.88) rotate(0.05)" font-size="5" text-anchor="end" dominant-baseline="central">0.92</text>
<text transform="translate(34.2 310.9) rotate(0.05)" font-size="5" text-anchor="end" dominant-baseline="central">0.90</text>
<text transform="translate(40.89 336.01) rotate(-45)" font-size="4.8" text-anchor="middle" dominant-baseline="central">2.2.0</text>
<text transform="translate(49.27 336.01) rotate(-45)" font-size="4.8" text-anchor="middle" dominant-baseline="central">2.2.3</text>
<text transform="translate(57.65 336.01) rotate(-45)" font-size="4.8" text-anchor="middle" dominant-baseline="central">2.3.0</text>
<text transform="translate(66.03 336.01) rotate(-45)" font-size="4.8" text-anchor="middle" dominant-baseline="central">2.3.4</text>
<text transform="translate(74.4 336.01) rotate(-45)" font-size="4.8" text-anchor="middle" dominant-baseline="central">2.4.0</text>
<text transform="translate(82.78 336.01) rotate(-45)" font-size="4.8" text-anchor="middle" dominant-baseline="central">2.4.4</text>
<text transform="translate(91.16 336.01) rotate(-45)" font-size="4.8" text-anchor="middle" dominant-baseline="central">2.5.0</text>
<text transform="translate(99.54 336.01) rotate(-45)" font-size="4.8" text-anchor="middle" dominant-baseline="central">2.5.3</text>
<text transform="translate(107.92 336.01) rotate(-45)" font-size="4.8" text-anchor="middle" dominant-baseline="central">2.6.2</text>
<text transform="translate(116.3 336.01) rotate(-45)" font-size="4.8" text-anchor="middle" dominant-baseline="central">2.6.3</text>
<text transform="translate(124.67 336.01) rotate(-45)" font-size="4.8" text-anchor="middle" dominant-baseline="central">2.7.0</text>
<text transform="translate(133.05 336.01) rotate(-45)" font-size="4.8" text-anchor="middle" dominant-baseline="central">2.7.1</text>
<text transform="translate(141.43 336.01) rotate(-45)" font-size="4.8" text-anchor="middle" dominant-baseline="central">2.8.0</text>
<text transform="translate(149.81 339.33) rotate(-45)" font-size="4.8" text-anchor="middle" dominant-baseline="central">2.9.0-rc2</text>
<text class="s" transform="translate(90.7 194.3) rotate(0.05)" font-size="10" text-anchor="middle" textLength="81" lengthAdjust="spacingAndGlyphs">Maximum accuracy</text>
<text class="s" transform="translate(7.9 279.9) rotate(-89.95)" font-size="10" text-anchor="middle" textLength="36" lengthAdjust="spacingAndGlyphs">accuracy</text>
<text class="s" transform="translate(91 362.3) rotate(0.05)" font-size="10" text-anchor="middle" textLength="30" lengthAdjust="spacingAndGlyphs">version</text>
<text transform="translate(214.4 217.7) rotate(0.05)" font-size="5" text-anchor="end" dominant-baseline="central">14</text>
<text transform="translate(214.4 233.72) rotate(0.05)" font-size="5" text-anchor="end" dominant-baseline="central">12</text>
<text transform="translate(214.4 249.73) rotate(0.05)" font-size="5" text-anchor="end" dominant-baseline="central">10</text>
<text transform="translate(214.4 265.75) rotate(0.05)" font-size="5" text-anchor="end" dominant-baseline="central">8</text>
<text transform="translate(214.4 281.76) rotate(0.05)" font-size="5" text-anchor="end" dominant-baseline="central">6</text>
<text transform="translate(214.4 297.77) rotate(0.05)" font-size="5" text-anchor="end" dominant-baseline="central">4</text>
<text transform="translate(214.4 313.79) rotate(0.05)" font-size="5" text-anchor="end" dominant-baseline="central">2</text>
<text transform="translate(221.26 335.91) rotate(-45)" font-size="4.8" text-anchor="middle" dominant-baseline="central">2.2.0</text>
<text transform="translate(229.99 335.91) rotate(-45)" font-size="4.8" text-anchor="middle" dominant-baseline="central">2.2.3</text>
<text transform="translate(238.72 335.91) rotate(-45)" font-size="4.8" text-anchor="middle" dominant-baseline="central">2.3.0</text>
<text transform="translate(247.45 335.91) rotate(-45)" font-size="4.8" text-anchor="middle" dominant-baseline="central">2.3.4</text>
<text transform="translate(256.18 335.91) rotate(-45)" font-size="4.8" text-anchor="middle" dominant-baseline="central">2.4.0</text>
<text transform="translate(264.91 335.91) rotate(-45)" font-size="4.8" text-anchor="middle" dominant-baseline="central">2.4.4</text>
<text transform="translate(273.64 335.91) rotate(-45)" font-size="4.8" text-anchor="middle" dominant-baseline="central">2.5.0</text>
<text transform="translate(282.36 335.91) rotate(-45)" font-size="4.8" text-anchor="middle" dominant-baseline="central">2.5.3</text>
<text transform="translate(291.09 335.91) rotate(-45)" font-size="4.8" text-anchor="middle" dominant-baseline="central">2.6.2</text>
<text transform="translate(299.82 335.91) rotate(-45)" font-size="4.8" text-anchor="middle" dominant-baseline="central">2.6.3</text>
<text transform="translate(308.55 335.91) rotate(-45)" font-size="4.8" text-anchor="middle" dominant-baseline="central">2.7.0</text>
<text transform="translate(317.28 335.91) rotate(-45)" font-size="4.8" text-anchor="middle" dominant-baseline="central">2.7.1</text>
<text transform="translate(326.01 335.91) rotate(-45)" font-size="4.8" text-anchor="middle" dominant-baseline="central">2.8.0</text>
<text transform="translate(334.74 339.23) rotate(-45)" font-size="4.8" text-anchor="middle" dominant-baseline="central">2.9.0-rc2</text>
<text class="s" transform="translate(275.6 194.5) rotate(0.05)" font-size="10" text-anchor="middle" textLength="131" lengthAdjust="spacingAndGlyphs">Epoch with maximum accuracy</text>
<text class="s" transform="translate(193.9 279.9) rotate(-89.95)" font-size="10" text-anchor="middle" textLength="25" lengthAdjust="spacingAndGlyphs">epoch</text>
<text class="s" transform="translate(276 362.3) rotate(0.05)" font-size="10" text-anchor="middle" textLength="30" lengthAdjust="spacingAndGlyphs">version</text>
<text transform="translate(34.2 412.8) rotate(0.05)" font-size="5" text-anchor="end" dominant-baseline="central">0.98</text>
<text transform="translate(34.2 433.83) rotate(0.05)" font-size="5" text-anchor="end" dominant-baseline="central">0.96</text>
<text transform="translate(34.2 454.85) rotate(0.05)" font-size="5" text-anchor="end" dominant-baseline="central">0.94</text>
<text transform="translate(34.2 475.88) rotate(0.05)" font-size="5" text-anchor="end" dominant-baseline="central">0.92</text>
<text transform="translate(34.2 496.9) rotate(0.05)" font-size="5" text-anchor="end" dominant-baseline="central">0.90</text>
<text transform="translate(40.89 521.01) rotate(-45)" font-size="4.8" text-anchor="middle" dominant-baseline="central">2.2.0</text>
<text transform="translate(49.27 521.01) rotate(-45)" font-size="4.8" text-anchor="middle" dominant-baseline="central">2.2.3</text>
<text transform="translate(57.65 521.01) rotate(-45)" font-size="4.8" text-anchor="middle" dominant-baseline="central">2.3.0</text>
<text transform="translate(66.03 521.01) rotate(-45)" font-size="4.8" text-anchor="middle" dominant-baseline="central">2.3.4</text>
<text transform="translate(74.4 521.01) rotate(-45)" font-size="4.8" text-anchor="middle" dominant-baseline="central">2.4.0</text>
<text transform="translate(82.78 521.01) rotate(-45)" font-size="4.8" text-anchor="middle" dominant-baseline="central">2.4.4</text>
<text transform="translate(91.16 521.01) rotate(-45)" font-size="4.8" text-anchor="middle" dominant-baseline="central">2.5.0</text>
<text transform="translate(99.54 521.01) rotate(-45)" font-size="4.8" text-anchor="middle" dominant-baseline="central">2.5.3</text>
<text transform="translate(107.92 521.01) rotate(-45)" font-size="4.8" text-anchor="middle" dominant-baseline="central">2.6.2</text>
<text transform="translate(116.3 521.01) rotate(-45)" font-size="4.8" text-anchor="middle" dominant-baseline="central">2.6.3</text>
<text transform="translate(124.67 521.01) rotate(-45)" font-size="4.8" text-anchor="middle" dominant-baseline="central">2.7.0</text>
<text transform="translate(133.05 521.01) rotate(-45)" font-size="4.8" text-anchor="middle" dominant-baseline="central">2.7.1</text>
<text transform="translate(141.43 521.01) rotate(-45)" font-size="4.8" text-anchor="middle" dominant-baseline="central">2.8.0</text>
<text transform="translate(149.81 524.33) rotate(-45)" font-size="4.8" text-anchor="middle" dominant-baseline="central">2.9.0-rc2</text>
<text class="s" transform="translate(89.9 380.5) rotate(0.05)" font-size="10" text-anchor="middle" textLength="76" lengthAdjust="spacingAndGlyphs">Inference accuracy</text>
<text class="s" transform="translate(7.9 464.7) rotate(-89.95)" font-size="10" text-anchor="middle" textLength="36" lengthAdjust="spacingAndGlyphs">accuracy</text>
<text class="s" transform="translate(91 547.5) rotate(0.05)" font-size="10" text-anchor="middle" textLength="30" lengthAdjust="spacingAndGlyphs">version</text>
<text transform="translate(222.2 405.8) rotate(0.05)" font-size="5" text-anchor="end" dominant-baseline="central">0.981</text>
<text transform="translate(222.2 419.5) rotate(0.05)" font-size="5" text-anchor="end" dominant-baseline="central">0.980</text>
<text transform="translate(222.2 433.2) rotate(0.05)" font-size="5" text-anchor="end" dominant-baseline="central">0.979</text>
<text transform="translate(222.2 446.9) rotate(0.05)" font-size="5" text-anchor="end" dominant-baseline="central">0.978</text>
<text transform="translate(222.2 460.6) rotate(0.05)" font-size="5" text-anchor="end" dominant-baseline="central">0.977</text>
<text transform="translate(222.2 474.3) rotate(0.05)" font-size="5" text-anchor="end" dominant-baseline="central">0.976</text>
<text transform="translate(222.2 488) rotate(0.05)" font-size="5" text-anchor="end" dominant-baseline="central">0.975</text>
<text transform="translate(222.2 501.7) rotate(0.05)" font-size="5" text-anchor="end" dominant-baseline="central">0.974</text>
<text transform="translate(229.93 520.91) rotate(-45)" font-size="4.8" text-anchor="middle" dominant-baseline="central">2.2.0</text>
<text transform="translate(237.97 520.91) rotate(-45)" font-size="4.8" text-anchor="middle" dominant-baseline="central">2.2.3</text>
<text transform="translate(246.01 520.91) rotate(-45)" font-size="4.8" text-anchor="middle" dominant-baseline="central">2.3.0</text>
<text transform="translate(254.05 520.91) rotate(-45)" font-size="4.8" text-anchor="middle" dominant-baseline="central">2.3.4</text>
<text transform="translate(262.1 520.91) rotate(-45)" font-size="4.8" text-anchor="middle" dominant-baseline="central">2.4.0</text>
<text transform="translate(270.14 520.91) rotate(-45)" font-size="4.8" text-anchor="middle" dominant-baseline="central">2.4.4</text>
<text transform="translate(278.18 520.91) rotate(-45)" font-size="4.8" text-anchor="middle" dominant-baseline="central">2.5.0</text>
<text transform="translate(286.22 520.91) rotate(-45)" font-size="4.8" text-anchor="middle" dominant-baseline="central">2.5.3</text>
<text transform="translate(294.26 520.91) rotate(-45)" font-size="4.8" text-anchor="middle" dominant-baseline="central">2.6.2</text>
<text transform="translate(302.3 520.91) rotate(-45)" font-size="4.8" text-anchor="middle" dominant-baseline="central">2.6.3</text>
<text transform="translate(310.35 520.91) rotate(-45)" font-size="4.8" text-anchor="middle" dominant-baseline="central">2.7.0</text>
<text transform="translate(318.39 520.91) rotate(-45)" font-size="4.8" text-anchor="middle" dominant-baseline="central">2.7.1</text>
<text transform="translate(326.43 520.91) rotate(-45)" font-size="4.8" text-anchor="middle" dominant-baseline="central">2.8.0</text>
<text transform="translate(334.47 524.23) rotate(-45)" font-size="4.8" text-anchor="middle" dominant-baseline="central">2.9.0-rc2</text>
<text class="s" transform="translate(276.1 380.3) rotate(0.05)" font-size="10" text-anchor="middle" textLength="73" lengthAdjust="spacingAndGlyphs">Average accuracy</text>
<text class="s" transform="translate(192.3 464.7) rotate(-89.95)" font-size="10" text-anchor="middle" textLength="35.5" lengthAdjust="spacingAndGlyphs">accuracy</text>
<text class="s" transform="translate(276 547.5) rotate(0.05)" font-size="10" text-anchor="middle" textLength="30" lengthAdjust="spacingAndGlyphs">version</text>
</g>
</svg>
</body></html>
